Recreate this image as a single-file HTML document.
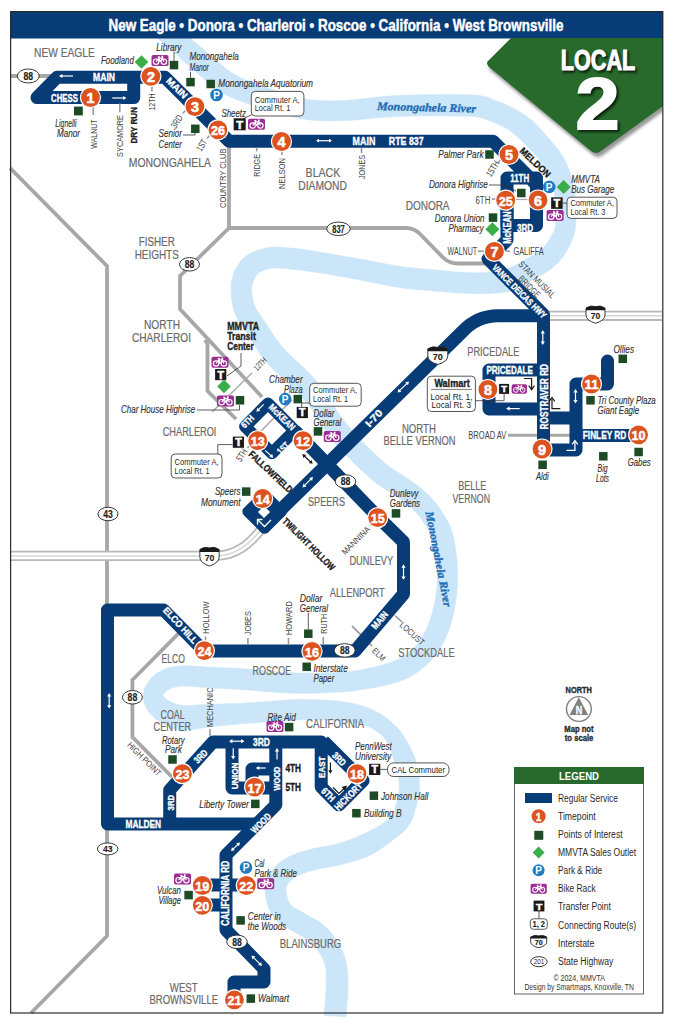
<!DOCTYPE html><html><head><meta charset="utf-8"><style>html,body{margin:0;padding:0;background:#fff;}svg{display:block;}</style></head><body><svg width="673" height="1024" viewBox="0 0 673 1024" font-family='"Liberation Sans", sans-serif'>
<defs><filter id="sh" x="-10%" y="-10%" width="130%" height="130%"><feGaussianBlur stdDeviation="1.6"/></filter><clipPath id="fr"><rect x="10" y="11" width="652.6" height="1002"/></clipPath><filter id="tsh" x="-20%" y="-20%" width="140%" height="140%"><feGaussianBlur stdDeviation="1"/></filter></defs>
<rect width="673" height="1024" fill="#fff"/>
<path d="M153.1,33.9 L153.8,34.5 L154.7,35.3 L155.7,36.2 L156.9,37.2 L158.2,38.3 L159.5,39.5 L161.0,40.8 L162.5,42.1 L164.1,43.5 L165.7,45.0 L167.4,46.4 L169.1,47.9 L170.8,49.5 L172.6,51.1 L174.5,52.8 L176.5,54.6 L178.6,56.5 L180.7,58.4 L182.8,60.4 L185.0,62.3 L187.2,64.3 L189.5,66.3 L191.7,68.2 L193.9,70.1 L196.0,71.9 L198.1,73.7 L200.3,75.7 L202.5,77.6 L204.8,79.6 L207.2,81.7 L209.6,83.8 L212.2,85.8 L214.8,87.8 L217.6,89.8 L220.5,91.7 L223.6,93.6 L226.6,95.2 L229.8,96.7 L232.9,98.1 L236.0,99.4 L239.2,100.6 L242.4,101.8 L245.6,102.9 L248.8,103.9 L252.1,105.0 L255.3,106.0 L258.5,107.0 L261.8,108.0 L265.1,109.0 L268.5,110.1 L272.1,111.2 L275.7,112.3 L279.3,113.3 L283.1,114.4 L286.8,115.4 L290.6,116.3 L294.3,117.2 L298.1,118.0 L301.8,118.7 L305.4,119.3 L309.0,119.8 L312.3,120.2 L315.6,120.5 L318.8,120.7 L321.9,120.8 L325.1,120.9 L328.2,120.9 L331.4,120.9 L334.7,120.8 L338.1,120.7 L341.6,120.5 L345.4,120.4 L349.5,120.2 L353.8,120.0 L358.1,119.6 L362.5,119.3 L367.0,118.9 L371.5,118.4 L376.2,118.0 L380.9,117.6 L385.7,117.2 L390.5,116.9 L395.4,116.6 L400.4,116.4 L405.8,116.2 L411.6,116.1 L417.8,116.0 L424.2,115.9 L430.7,115.9 L437.2,115.8 L443.6,115.8 L449.8,115.9 L455.5,116.0 L460.9,116.1 L465.6,116.2 L469.6,116.3 L472.8,116.5 L475.3,116.6 L477.2,116.8 L478.6,117.0 L479.6,117.2 L480.1,117.3 L480.6,117.4 L481.2,117.6 L482.1,118.0 L483.3,118.5 L484.9,119.1 L486.6,119.7 L488.3,120.2 L489.8,120.7 L491.4,121.3 L492.9,121.9 L494.5,122.6 L496.1,123.3 L497.7,124.0 L499.2,124.7 L500.7,125.4 L502.2,126.1 L503.6,126.9 L504.9,127.6 L506.2,128.3 L507.4,129.1 L508.5,129.8 L509.5,130.5 L510.6,131.3 L511.6,132.0 L512.5,132.8 L513.5,133.6 L514.5,134.4 L515.6,135.3 L516.6,136.3 L517.7,137.3 L518.9,138.2 L520.1,139.3 L521.3,140.4 L522.6,141.6 L523.9,142.9 L525.2,144.1 L526.4,145.4 L527.7,146.8 L529.0,148.1 L530.3,149.4 L531.5,150.7 L532.6,152.0 L533.7,153.2 L534.8,154.5 L535.9,155.7 L536.9,156.9 L537.9,158.1 L538.9,159.3 L539.8,160.5 L540.7,161.6 L541.6,162.7 L542.3,163.8 L543.1,164.8 L543.7,165.8 L544.4,166.8 L544.9,167.7 L545.5,168.5 L545.9,169.4 L546.4,170.2 L546.8,171.0 L547.2,171.8 L547.5,172.7 L547.9,173.6 L548.3,174.6 L548.8,175.6 L549.2,176.7 L549.7,177.9 L550.1,179.1 L550.6,180.3 L551.1,181.6 L551.5,182.8 L552.0,184.2 L552.4,185.5 L552.8,186.8 L553.2,188.2 L553.6,189.5 L553.9,190.8 L554.2,192.0 L554.4,193.2 L554.7,194.5 L554.9,195.8 L555.0,197.1 L555.2,198.5 L555.4,199.8 L555.5,201.2 L555.6,202.5 L555.7,203.8 L555.8,205.1 L555.9,206.4 L556.0,207.7 L556.1,208.8 L556.2,209.9 L556.2,210.9 L556.2,211.9 L556.2,212.8 L556.2,213.8 L556.2,214.7 L556.2,215.5 L556.2,216.4 L556.2,217.3 L556.1,218.3 L556.0,219.3 L555.9,220.4 L555.9,221.5 L555.8,222.6 L555.8,223.5 L555.7,224.4 L555.6,225.1 L555.5,225.9 L555.4,226.6 L555.3,227.3 L555.1,228.0 L554.9,228.7 L554.6,229.6 L554.2,230.6 L553.7,231.7 L553.1,232.9 L552.4,234.2 L551.7,235.5 L551.0,236.8 L550.2,238.2 L549.5,239.5 L548.7,240.7 L547.9,241.9 L547.2,243.0 L546.5,243.9 L545.8,244.8 L545.2,245.6 L544.5,246.4 L543.8,247.1 L543.2,247.9 L542.5,248.6 L541.8,249.2 L541.0,249.9 L540.2,250.6 L539.4,251.3 L538.6,251.9 L537.7,252.6 L536.9,253.2 L536.1,253.7 L535.2,254.2 L534.3,254.8 L533.2,255.4 L532.1,256.0 L531.0,256.6 L529.8,257.2 L528.6,257.8 L527.3,258.5 L526.0,259.2 L524.8,259.9 L523.6,260.6 L522.4,261.2 L521.3,261.8 L520.3,262.4 L519.3,263.0 L518.3,263.5 L517.4,264.0 L516.5,264.5 L515.7,264.9 L514.9,265.4 L514.0,265.7 L513.2,266.1 L512.2,266.6 L511.2,267.1 L510.2,267.5 L509.4,267.9 L508.6,268.3 L507.8,268.7 L507.0,269.0 L506.2,269.3 L505.4,269.5 L504.6,269.8 L503.7,270.0 L502.7,270.2 L501.6,270.5 L500.4,270.7 L499.0,271.0 L497.6,271.2 L496.1,271.4 L494.5,271.6 L492.8,271.8 L491.2,272.0 L489.5,272.1 L487.8,272.3 L486.1,272.4 L484.5,272.5 L482.9,272.6 L481.4,272.7 L480.0,272.7 L478.5,272.8 L477.1,272.8 L475.7,272.8 L474.2,272.8 L472.6,272.8 L471.0,272.8 L469.3,272.7 L467.5,272.6 L465.5,272.6 L463.5,272.4 L461.3,272.3 L459.1,272.1 L456.7,271.9 L454.3,271.7 L451.8,271.5 L449.3,271.3 L446.7,271.1 L444.0,270.8 L441.3,270.6 L438.7,270.3 L435.9,270.0 L433.2,269.8 L430.4,269.6 L427.6,269.3 L424.8,269.1 L421.9,268.9 L419.1,268.6 L416.2,268.3 L413.3,268.1 L410.4,267.7 L407.5,267.4 L404.5,267.0 L401.5,266.6 L398.5,266.2 L395.4,265.7 L392.2,265.1 L389.0,264.5 L385.7,263.9 L382.3,263.3 L378.9,262.6 L375.5,262.0 L372.1,261.3 L368.7,260.7 L365.3,260.0 L361.8,259.4 L358.5,258.8 L355.0,258.2 L351.6,257.6 L348.1,256.9 L344.6,256.3 L341.2,255.7 L337.7,255.1 L334.3,254.5 L331.0,253.9 L327.8,253.4 L324.6,252.9 L321.6,252.4 L318.7,251.9 L315.9,251.4 L313.1,251.0 L310.4,250.6 L307.7,250.2 L305.1,249.8 L302.6,249.5 L300.2,249.1 L297.8,248.8 L295.4,248.5 L293.2,248.3 L291.0,248.0 L288.9,247.9 L287.0,247.7 L285.1,247.5 L283.3,247.4 L281.5,247.2 L279.7,247.1 L277.8,247.1 L276.0,247.1 L274.2,247.1 L272.3,247.2 L270.4,247.4 L268.5,247.6 L266.6,247.9 L264.7,248.3 L262.9,248.7 L261.1,249.2 L259.2,249.7 L257.4,250.3 L255.6,250.9 L253.8,251.7 L252.1,252.5 L250.4,253.3 L248.7,254.3 L247.0,255.4 L245.4,256.6 L243.9,257.9 L242.5,259.2 L241.2,260.6 L240.1,262.0 L239.0,263.4 L238.1,264.9 L237.2,266.3 L236.4,267.7 L235.7,269.1 L235.0,270.4 L234.4,271.7 L233.8,273.1 L233.3,274.5 L232.8,276.0 L232.4,277.5 L232.0,279.0 L231.7,280.6 L231.5,282.1 L231.3,283.7 L231.2,285.3 L231.1,287.0 L231.1,288.6 L231.2,290.3 L231.2,291.9 L231.3,293.6 L231.4,295.4 L231.5,297.3 L231.7,299.2 L232.0,301.2 L232.3,303.3 L232.7,305.4 L233.2,307.5 L233.8,309.6 L234.5,311.8 L235.3,314.0 L236.2,316.1 L237.3,318.2 L238.4,320.2 L239.5,322.0 L240.7,323.9 L241.8,325.6 L243.0,327.3 L244.2,329.0 L245.4,330.7 L246.6,332.4 L247.8,334.1 L248.9,335.8 L250.1,337.6 L251.2,339.5 L252.4,341.5 L253.7,343.6 L255.0,345.8 L256.3,348.0 L257.8,350.3 L259.3,352.6 L260.9,355.0 L262.6,357.4 L264.4,359.8 L266.4,362.2 L268.5,364.5 L270.7,366.9 L273.0,369.2 L275.4,371.5 L277.8,373.7 L280.1,375.9 L282.5,378.1 L284.7,380.1 L286.9,382.2 L289.0,384.1 L290.9,385.9 L292.6,387.7 L294.3,389.4 L296.0,391.1 L297.6,392.8 L299.1,394.4 L300.6,395.9 L302.0,397.4 L303.4,398.9 L304.7,400.4 L305.9,401.8 L307.2,403.3 L308.4,404.8 L309.6,406.3 L310.6,407.7 L311.5,409.0 L312.4,410.4 L313.2,411.8 L314.1,413.3 L315.0,414.9 L315.9,416.6 L316.9,418.3 L318.0,420.2 L319.2,422.1 L320.6,424.1 L322.0,426.1 L323.4,428.1 L324.8,430.0 L326.2,431.9 L327.8,433.9 L329.3,435.9 L330.9,438.0 L332.6,440.1 L334.4,442.2 L336.3,444.4 L338.2,446.6 L340.2,448.9 L342.3,451.2 L344.6,453.6 L347.0,456.0 L349.6,458.6 L352.2,461.3 L354.9,463.9 L357.7,466.6 L360.5,469.2 L363.2,471.8 L365.9,474.3 L368.5,476.6 L370.9,478.8 L373.3,480.8 L375.5,482.6 L377.7,484.2 L379.7,485.7 L381.7,487.0 L383.5,488.2 L385.3,489.2 L386.9,490.2 L388.4,491.0 L389.8,491.9 L391.2,492.7 L392.5,493.6 L394.0,494.6 L395.6,495.8 L397.3,497.0 L399.1,498.2 L400.8,499.4 L402.5,500.6 L404.1,501.9 L405.7,503.1 L407.3,504.3 L408.8,505.5 L410.2,506.6 L411.5,507.8 L412.7,509.0 L413.9,510.2 L415.1,511.4 L416.2,512.6 L417.3,513.8 L418.4,515.1 L419.4,516.4 L420.4,517.6 L421.4,519.0 L422.3,520.3 L423.2,521.7 L424.1,523.0 L425.1,524.5 L426.1,526.1 L427.1,527.6 L427.9,529.0 L428.8,530.3 L429.5,531.6 L430.2,532.8 L430.8,534.1 L431.4,535.4 L432.0,536.8 L432.5,538.4 L433.1,540.2 L433.6,542.2 L434.1,544.7 L434.6,547.3 L435.2,550.3 L435.6,553.3 L436.1,556.6 L436.5,559.9 L436.8,563.3 L437.1,566.6 L437.3,570.0 L437.5,573.4 L437.5,576.6 L437.5,579.7 L437.3,582.8 L437.1,586.0 L436.7,589.2 L436.3,592.5 L435.9,595.7 L435.3,599.0 L434.7,602.2 L434.1,605.3 L433.4,608.4 L432.6,611.4 L431.8,614.2 L431.0,616.9 L430.1,619.6 L429.2,622.2 L428.3,624.7 L427.3,627.1 L426.3,629.4 L425.3,631.6 L424.2,633.8 L423.0,635.9 L421.8,637.8 L420.6,639.7 L419.3,641.6 L417.9,643.4 L416.4,645.1 L414.8,646.8 L413.2,648.4 L411.6,650.0 L409.9,651.5 L408.1,652.9 L406.3,654.3 L404.4,655.6 L402.3,656.8 L400.2,658.1 L398.0,659.2 L395.7,660.3 L393.3,661.4 L390.7,662.4 L387.7,663.4 L384.6,664.4 L381.4,665.3 L378.0,666.2 L374.6,667.0 L371.1,667.8 L367.8,668.5 L364.5,669.2 L361.3,669.8 L358.3,670.4 L355.6,670.8 L353.1,671.2 L350.7,671.5 L348.3,671.7 L346.0,671.8 L343.8,672.0 L341.5,672.1 L339.2,672.2 L336.9,672.3 L334.5,672.3 L332.0,672.4 L329.5,672.5 L327.0,672.6 L324.5,672.7 L322.1,672.8 L319.6,672.9 L317.2,673.0 L314.7,673.0 L312.3,673.1 L309.9,673.1 L307.4,673.1 L305.0,673.1 L302.6,673.1 L300.2,673.1 L297.8,673.0 L295.4,672.9 L293.0,672.8 L290.5,672.7 L288.1,672.5 L285.6,672.4 L283.2,672.2 L280.7,672.0 L278.2,671.8 L275.7,671.7 L273.2,671.5 L270.7,671.3 L268.3,671.1 L265.8,670.9 L263.4,670.7 L260.9,670.4 L258.4,670.2 L255.9,670.0 L253.4,669.7 L250.9,669.5 L248.4,669.3 L245.8,669.1 L243.3,668.9 L240.7,668.7 L238.1,668.5 L235.6,668.4 L233.1,668.2 L230.5,668.1 L228.0,668.0 L225.5,667.9 L223.0,667.8 L220.5,667.7 L218.0,667.6 L215.5,667.5 L213.0,667.4 L210.5,667.3 L208.1,667.1 L205.6,667.0 L203.0,666.8 L200.4,666.6 L197.7,666.4 L195.0,666.2 L192.3,666.0 L189.6,665.8 L186.9,665.8 L184.2,665.7 L181.6,665.8 L179.1,666.0 L176.8,666.3 L174.6,666.6 L172.5,667.0 L170.4,667.4 L168.4,668.0 L166.5,668.6 L164.6,669.3 L162.8,670.1 L161.1,670.9 L159.4,671.8 L157.8,672.8 L156.2,673.8 L154.7,675.0 L153.2,676.4 L151.8,677.8 L150.4,679.2 L149.2,680.8 L148.0,682.4 L146.9,684.1 L145.9,685.9 L145.1,687.8 L144.4,689.8 L143.8,691.9 L143.5,694.2 L143.4,696.5 L143.4,698.7 L143.8,700.8 L144.2,702.8 L144.9,704.8 L145.7,706.6 L146.6,708.5 L147.7,710.2 L148.8,711.9 L150.1,713.5 L151.5,715.0 L152.9,716.4 L154.3,717.7 L155.9,719.0 L157.5,720.3 L159.3,721.6 L161.2,722.9 L163.2,724.1 L165.3,725.3 L167.6,726.5 L170.1,727.5 L172.6,728.4 L175.3,729.2 L178.2,729.9 L181.2,730.1 L184.2,730.1 L187.2,730.0 L190.1,729.7 L192.9,729.4 L195.7,729.0 L198.4,728.6 L201.0,728.2 L203.6,727.7 L206.1,727.4 L208.5,727.0 L210.8,726.7 L213.2,726.5 L215.7,726.2 L218.2,726.0 L220.7,725.7 L223.2,725.5 L225.7,725.3 L228.2,725.0 L230.7,724.8 L233.2,724.5 L235.7,724.3 L238.2,724.0 L240.7,723.8 L243.2,723.6 L245.7,723.4 L248.2,723.2 L250.7,723.1 L253.2,722.9 L255.7,722.7 L258.2,722.5 L260.7,722.3 L263.2,722.1 L265.7,722.0 L268.2,721.8 L270.7,721.6 L273.2,721.5 L275.7,721.3 L278.3,721.1 L280.8,720.9 L283.2,720.7 L285.7,720.5 L288.2,720.4 L290.6,720.2 L293.0,720.1 L295.4,720.0 L297.8,719.9 L300.2,719.8 L302.6,719.8 L305.1,719.8 L307.6,719.8 L310.1,719.8 L312.7,719.8 L315.2,719.9 L317.7,720.0 L320.2,720.1 L322.6,720.1 L324.9,720.2 L327.2,720.4 L329.4,720.5 L331.5,720.6 L333.4,720.7 L335.3,720.8 L337.2,720.9 L338.9,721.0 L340.6,721.1 L342.2,721.3 L343.8,721.4 L345.4,721.6 L347.0,721.8 L348.5,722.0 L350.1,722.3 L351.8,722.6 L353.5,722.9 L355.1,723.1 L356.7,723.4 L358.3,723.8 L359.9,724.1 L361.4,724.5 L362.9,724.9 L364.3,725.3 L365.7,725.7 L367.1,726.2 L368.4,726.7 L369.7,727.3 L370.9,727.9 L372.2,728.6 L373.5,729.3 L374.7,730.0 L375.9,730.8 L377.1,731.6 L378.3,732.4 L379.4,733.2 L380.5,734.1 L381.5,734.9 L382.4,735.8 L383.2,736.7 L384.0,737.6 L384.7,738.5 L385.3,739.5 L386.0,740.5 L386.6,741.5 L387.2,742.6 L387.8,743.6 L388.4,744.8 L389.0,745.9 L389.5,747.1 L390.1,748.3 L390.6,749.4 L391.0,750.6 L391.4,751.7 L391.8,753.0 L392.2,754.2 L392.5,755.5 L392.9,756.8 L393.2,758.1 L393.6,759.4 L393.9,760.7 L394.2,762.0 L394.6,763.4 L395.0,764.6 L395.4,765.8 L395.8,766.9 L396.2,768.1 L396.5,769.2 L396.9,770.3 L397.2,771.4 L397.5,772.5 L397.7,773.5 L398.0,774.6 L398.2,775.6 L398.4,776.6 L398.6,777.7 L398.7,778.8 L398.9,779.9 L399.0,781.0 L399.2,782.0 L399.3,783.1 L399.3,784.1 L399.4,785.1 L399.4,786.1 L399.4,787.1 L399.4,788.2 L399.3,789.2 L399.3,790.2 L399.1,791.3 L399.0,792.4 L398.8,793.6 L398.6,794.7 L398.4,796.0 L398.1,797.2 L397.8,798.4 L397.6,799.7 L397.2,800.9 L396.9,802.1 L396.6,803.4 L396.3,804.7 L395.9,806.0 L395.6,807.2 L395.4,808.3 L395.1,809.3 L394.8,810.3 L394.5,811.2 L394.2,812.0 L393.9,812.8 L393.6,813.5 L393.3,814.1 L392.9,814.7 L392.4,815.4 L391.9,816.0 L391.4,816.6 L390.9,817.3 L390.3,817.9 L389.6,818.5 L388.9,819.1 L388.0,819.9 L387.1,820.6 L386.0,821.4 L384.8,822.3 L383.5,823.3 L381.9,824.2 L380.3,825.2 L378.6,826.2 L376.8,827.3 L374.9,828.4 L373.0,829.4 L371.0,830.5 L369.0,831.5 L367.0,832.5 L365.1,833.4 L363.2,834.3 L361.3,835.0 L359.5,835.9 L357.7,836.7 L355.8,837.6 L353.8,838.3 L351.8,839.1 L349.8,839.8 L347.8,840.6 L345.7,841.3 L343.6,841.9 L341.5,842.6 L339.4,843.2 L337.3,843.9 L335.3,844.4 L333.3,844.8 L331.2,845.3 L329.0,845.7 L326.8,846.1 L324.5,846.5 L322.1,846.9 L319.8,847.3 L317.4,847.7 L315.0,848.2 L312.6,848.8 L310.3,849.4 L308.1,850.0 L306.0,850.5 L304.0,851.2 L301.9,851.8 L299.8,852.4 L297.7,853.1 L295.6,853.9 L293.6,854.7 L291.6,855.5 L289.6,856.4 L287.6,857.4 L285.7,858.4 L283.9,859.5 L282.2,860.7 L280.6,861.9 L279.0,863.1 L277.4,864.4 L276.0,865.7 L274.6,867.1 L273.3,868.6 L272.0,870.1 L270.8,871.7 L269.8,873.3 L268.8,875.0 L267.9,876.8 L267.1,878.6 L266.5,880.4 L266.0,882.3 L265.6,884.2 L265.3,886.0 L265.2,887.8 L265.1,889.6 L265.1,891.4 L265.2,893.2 L265.4,894.9 L265.6,896.6 L265.9,898.3 L266.3,900.1 L266.7,901.9 L267.2,903.7 L267.8,905.6 L268.5,907.5 L269.3,909.4 L270.2,911.3 L271.2,913.2 L272.3,915.1 L273.6,917.0 L275.1,918.9 L276.7,920.7 L278.5,922.3 L280.3,923.7 L282.1,924.9 L283.9,926.0 L285.6,927.0 L287.3,927.9 L288.9,928.8 L290.4,929.6 L291.9,930.4 L293.2,931.2 L294.6,932.0 L296.2,932.9 L297.9,933.9 L299.6,934.9 L301.2,935.7 L302.8,936.6 L304.2,937.4 L305.6,938.2 L307.0,938.9 L308.2,939.7 L309.2,940.4 L310.2,941.1 L311.0,941.8 L311.9,942.6 L312.8,943.6 L313.6,944.5 L314.5,945.6 L315.4,946.7 L316.2,947.8 L317.1,949.0 L317.9,950.2 L318.7,951.5 L319.4,952.7 L320.2,953.9 L320.8,955.1 L321.5,956.3 L322.1,957.4 L322.6,958.5 L323.1,959.5 L323.5,960.4 L323.9,961.4 L324.2,962.4 L324.6,963.4 L324.9,964.4 L325.2,965.5 L325.4,966.6 L325.7,967.9 L325.8,969.2 L326.0,970.5 L326.1,971.9 L326.2,973.4 L326.2,975.0 L326.3,976.6 L326.3,978.3 L326.2,980.1 L326.2,981.9 L326.1,983.8 L326.1,985.8 L326.0,987.7 L325.9,989.8 L325.8,992.1 L325.7,994.5 L325.5,997.1 L325.3,999.8 L325.1,1002.5 L324.9,1005.1 L324.7,1007.6 L324.5,1009.9 L324.3,1012.0 L324.1,1013.7 L324.0,1015.2 L346.0,1016.8 L346.1,1015.5 L346.2,1013.8 L346.4,1011.8 L346.6,1009.5 L346.8,1006.9 L347.0,1004.3 L347.2,1001.5 L347.5,998.7 L347.6,995.9 L347.8,993.2 L347.9,990.6 L348.0,988.3 L348.0,986.1 L348.0,984.0 L348.0,982.0 L347.9,979.9 L347.8,977.9 L347.7,975.9 L347.6,973.9 L347.5,971.9 L347.2,969.9 L347.0,968.0 L346.7,966.0 L346.3,964.1 L346.0,962.3 L345.6,960.5 L345.1,958.8 L344.6,957.1 L344.1,955.5 L343.5,953.9 L342.9,952.3 L342.2,950.8 L341.5,949.3 L340.7,947.8 L340.0,946.3 L339.2,944.9 L338.3,943.4 L337.4,941.9 L336.5,940.3 L335.5,938.7 L334.4,937.1 L333.3,935.5 L332.1,933.9 L330.8,932.3 L329.5,930.8 L328.1,929.2 L326.6,927.7 L325.0,926.2 L323.2,924.7 L321.4,923.3 L319.6,922.1 L317.9,921.0 L316.1,920.0 L314.4,919.0 L312.7,918.1 L311.1,917.2 L309.6,916.4 L308.2,915.6 L306.8,914.9 L305.4,914.0 L303.8,913.0 L302.1,912.1 L300.4,911.2 L298.9,910.3 L297.4,909.5 L296.0,908.7 L294.7,908.0 L293.6,907.3 L292.7,906.7 L292.0,906.1 L291.4,905.6 L290.9,905.1 L290.5,904.6 L290.0,903.8 L289.5,903.0 L289.0,902.1 L288.6,901.1 L288.1,900.0 L287.7,898.9 L287.4,897.8 L287.0,896.6 L286.8,895.5 L286.6,894.4 L286.4,893.4 L286.2,892.4 L286.2,891.5 L286.1,890.7 L286.1,889.9 L286.1,889.1 L286.2,888.4 L286.3,887.8 L286.4,887.2 L286.6,886.6 L286.7,886.1 L287.0,885.5 L287.2,885.0 L287.6,884.4 L288.0,883.8 L288.5,883.1 L289.1,882.4 L289.8,881.6 L290.5,880.9 L291.3,880.1 L292.2,879.4 L293.2,878.6 L294.2,877.9 L295.2,877.2 L296.3,876.6 L297.4,876.0 L298.6,875.4 L299.9,874.8 L301.4,874.2 L302.9,873.6 L304.5,873.0 L306.3,872.4 L308.1,871.8 L309.9,871.3 L311.8,870.7 L313.8,870.2 L315.7,869.6 L317.5,869.2 L319.4,868.7 L321.4,868.3 L323.5,867.9 L325.7,867.6 L328.0,867.2 L330.4,866.8 L332.8,866.3 L335.2,865.9 L337.7,865.4 L340.2,864.8 L342.7,864.1 L345.1,863.5 L347.4,862.9 L349.7,862.3 L352.0,861.6 L354.3,860.9 L356.7,860.2 L359.0,859.5 L361.4,858.7 L363.7,857.8 L366.0,856.9 L368.4,856.0 L370.7,855.0 L372.9,853.7 L375.2,852.4 L377.4,851.1 L379.6,849.7 L381.7,848.2 L383.8,846.8 L385.8,845.4 L387.8,844.0 L389.6,842.6 L391.4,841.2 L393.0,839.9 L394.5,838.7 L396.0,837.7 L397.4,836.6 L398.7,835.6 L400.0,834.6 L401.2,833.6 L402.4,832.5 L403.6,831.4 L404.7,830.3 L405.7,829.1 L406.8,827.9 L407.7,826.7 L408.7,825.3 L409.7,823.8 L410.5,822.3 L411.3,820.7 L412.0,819.2 L412.6,817.7 L413.1,816.3 L413.5,814.9 L414.0,813.6 L414.3,812.3 L414.7,811.0 L415.0,809.8 L415.4,808.6 L415.8,807.3 L416.2,806.0 L416.6,804.6 L416.9,803.1 L417.3,801.7 L417.7,800.2 L418.0,798.6 L418.3,797.1 L418.6,795.6 L418.9,794.0 L419.1,792.4 L419.3,790.8 L419.4,789.3 L419.5,787.7 L419.5,786.2 L419.5,784.7 L419.5,783.3 L419.5,781.8 L419.4,780.4 L419.3,779.0 L419.1,777.5 L419.0,776.1 L418.8,774.8 L418.6,773.4 L418.4,771.9 L418.1,770.5 L417.8,769.0 L417.5,767.6 L417.2,766.2 L416.9,764.8 L416.5,763.4 L416.1,762.1 L415.7,760.7 L415.3,759.3 L414.9,758.0 L414.4,756.6 L413.9,755.3 L413.3,754.0 L412.7,752.7 L412.0,751.3 L411.4,749.8 L410.7,748.4 L410.0,746.9 L409.3,745.5 L408.5,744.0 L407.7,742.6 L406.8,741.1 L405.9,739.7 L405.1,738.4 L404.3,737.1 L403.4,735.8 L402.5,734.5 L401.6,733.2 L400.6,731.9 L399.6,730.6 L398.5,729.3 L397.4,728.0 L396.2,726.7 L394.9,725.5 L393.6,724.2 L392.3,723.0 L391.0,721.8 L389.6,720.6 L388.2,719.5 L386.8,718.3 L385.3,717.2 L383.8,716.1 L382.2,715.1 L380.6,714.1 L379.0,713.1 L377.3,712.2 L375.6,711.3 L373.9,710.4 L372.1,709.6 L370.3,708.8 L368.5,708.1 L366.7,707.5 L364.9,706.8 L363.0,706.2 L361.2,705.7 L359.4,705.1 L357.5,704.6 L355.7,704.1 L353.9,703.7 L352.0,703.3 L350.1,702.9 L348.3,702.6 L346.4,702.3 L344.5,702.0 L342.7,701.7 L340.8,701.5 L338.8,701.3 L336.9,701.1 L334.9,700.9 L332.8,700.7 L330.6,700.5 L328.4,700.4 L326.0,700.2 L323.5,700.1 L321.0,700.0 L318.4,699.9 L315.8,699.8 L313.1,699.7 L310.5,699.6 L307.8,699.6 L305.1,699.5 L302.5,699.5 L299.8,699.6 L297.2,699.6 L294.6,699.7 L292.0,699.8 L289.4,700.0 L286.8,700.1 L284.3,700.3 L281.8,700.5 L279.2,700.7 L276.7,700.8 L274.3,701.0 L271.8,701.2 L269.3,701.4 L266.8,701.5 L264.3,701.7 L261.8,701.9 L259.3,702.0 L256.8,702.2 L254.3,702.4 L251.8,702.6 L249.3,702.7 L246.8,702.9 L244.3,703.1 L241.8,703.3 L239.3,703.4 L236.8,703.5 L234.3,703.6 L231.8,703.6 L229.3,703.7 L226.8,703.8 L224.3,703.9 L221.8,703.9 L219.3,704.0 L216.8,704.1 L214.3,704.1 L211.8,704.2 L209.2,704.3 L206.4,704.4 L203.7,704.6 L200.9,704.8 L198.2,705.0 L195.6,705.2 L193.1,705.4 L190.7,705.5 L188.5,705.6 L186.4,705.6 L184.6,705.5 L183.1,705.4 L181.8,705.1 L180.6,705.0 L179.2,704.8 L177.9,704.5 L176.6,704.2 L175.2,703.7 L173.9,703.2 L172.7,702.7 L171.4,702.1 L170.2,701.5 L169.1,700.8 L168.0,700.2 L167.1,699.6 L166.3,699.1 L165.7,698.6 L165.1,698.1 L164.5,697.7 L164.1,697.2 L163.7,696.8 L163.3,696.4 L163.1,696.1 L162.9,695.9 L162.7,695.7 L162.6,695.7 L162.5,695.8 L162.5,695.8 L162.6,695.7 L162.8,695.4 L163.0,694.9 L163.4,694.3 L163.9,693.7 L164.4,693.0 L165.1,692.4 L165.7,691.7 L166.4,691.1 L167.1,690.6 L167.8,690.2 L168.5,689.7 L169.3,689.2 L170.1,688.8 L171.0,688.4 L171.9,688.0 L172.9,687.7 L174.0,687.4 L175.2,687.1 L176.4,686.8 L177.8,686.6 L179.3,686.4 L180.9,686.2 L182.5,686.1 L184.4,686.1 L186.4,686.1 L188.6,686.2 L191.0,686.3 L193.5,686.5 L196.1,686.7 L198.7,686.9 L201.4,687.2 L204.1,687.4 L206.8,687.6 L209.5,687.7 L212.0,687.9 L214.5,688.0 L217.0,688.1 L219.5,688.2 L222.0,688.3 L224.5,688.5 L227.0,688.6 L229.5,688.7 L231.9,688.9 L234.4,689.0 L236.9,689.2 L239.3,689.3 L241.7,689.5 L244.2,689.7 L246.6,689.9 L249.1,690.1 L251.6,690.3 L254.1,690.5 L256.6,690.7 L259.1,690.9 L261.6,691.1 L264.2,691.4 L266.7,691.5 L269.3,691.7 L271.8,691.9 L274.3,692.1 L276.8,692.2 L279.3,692.4 L281.8,692.6 L284.4,692.7 L286.9,692.9 L289.5,693.0 L292.0,693.1 L294.6,693.2 L297.2,693.3 L299.8,693.3 L302.4,693.4 L305.0,693.4 L307.6,693.3 L310.1,693.3 L312.7,693.3 L315.3,693.2 L317.8,693.1 L320.4,693.0 L322.9,692.9 L325.5,692.8 L328.0,692.6 L330.5,692.5 L332.9,692.3 L335.3,692.2 L337.7,692.1 L340.1,692.0 L342.5,691.9 L345.0,691.7 L347.5,691.5 L350.2,691.3 L352.9,691.0 L355.7,690.6 L358.7,690.1 L361.7,689.6 L364.8,689.1 L368.0,688.6 L371.5,688.0 L375.1,687.4 L378.8,686.7 L382.5,685.9 L386.3,685.1 L390.0,684.2 L393.8,683.2 L397.4,682.1 L400.9,680.8 L404.3,679.5 L407.4,678.0 L410.3,676.5 L413.1,674.9 L415.9,673.2 L418.5,671.4 L421.0,669.5 L423.4,667.5 L425.7,665.5 L428.0,663.4 L430.1,661.2 L432.1,659.0 L434.1,656.6 L436.1,654.2 L437.9,651.7 L439.6,649.1 L441.2,646.4 L442.7,643.7 L444.1,640.9 L445.5,638.0 L446.7,635.1 L447.9,632.2 L449.0,629.2 L450.1,626.2 L451.0,623.1 L451.9,619.8 L452.8,616.5 L453.6,613.0 L454.3,609.5 L455.0,605.9 L455.5,602.3 L456.1,598.6 L456.5,594.9 L456.9,591.3 L457.2,587.6 L457.4,583.9 L457.5,580.3 L457.6,576.6 L457.6,572.9 L457.4,569.1 L457.2,565.3 L457.0,561.5 L456.6,557.7 L456.2,554.1 L455.8,550.5 L455.3,547.1 L454.8,543.8 L454.2,540.7 L453.6,537.8 L452.9,535.0 L452.2,532.3 L451.4,529.9 L450.5,527.5 L449.6,525.4 L448.7,523.4 L447.7,521.5 L446.7,519.8 L445.7,518.1 L444.8,516.5 L443.9,515.0 L442.9,513.5 L441.9,511.8 L440.7,510.0 L439.6,508.3 L438.4,506.6 L437.2,505.0 L435.9,503.3 L434.6,501.7 L433.2,500.1 L431.8,498.5 L430.4,497.0 L428.9,495.4 L427.3,493.8 L425.6,492.3 L423.9,490.7 L422.1,489.2 L420.3,487.8 L418.5,486.4 L416.6,485.0 L414.8,483.7 L413.0,482.4 L411.2,481.1 L409.5,479.9 L407.8,478.6 L406.0,477.4 L404.2,476.1 L402.4,475.0 L400.7,473.9 L399.0,472.9 L397.5,472.0 L396.0,471.2 L394.6,470.3 L393.1,469.4 L391.7,468.4 L390.1,467.3 L388.5,466.1 L386.7,464.6 L384.7,462.9 L382.4,460.9 L380.0,458.7 L377.5,456.4 L374.9,454.0 L372.2,451.4 L369.6,448.9 L367.0,446.3 L364.4,443.8 L362.0,441.3 L359.7,439.0 L357.7,436.8 L355.7,434.7 L353.9,432.7 L352.2,430.7 L350.5,428.8 L348.9,426.8 L347.4,424.9 L345.9,423.0 L344.4,421.1 L343.0,419.3 L341.7,417.5 L340.3,415.6 L339.0,413.9 L337.9,412.3 L336.9,410.8 L336.0,409.3 L335.1,407.7 L334.2,406.2 L333.3,404.6 L332.3,402.9 L331.3,401.2 L330.3,399.4 L329.1,397.6 L327.8,395.6 L326.4,393.7 L325.1,391.9 L323.7,390.1 L322.4,388.4 L321.0,386.7 L319.6,384.9 L318.1,383.2 L316.7,381.5 L315.1,379.7 L313.5,377.9 L311.9,376.1 L310.2,374.3 L308.4,372.3 L306.3,370.3 L304.2,368.2 L301.9,366.0 L299.6,363.9 L297.3,361.8 L295.0,359.7 L292.7,357.6 L290.5,355.6 L288.4,353.5 L286.5,351.5 L284.7,349.7 L283.0,347.8 L281.5,346.0 L280.0,344.2 L278.6,342.3 L277.2,340.3 L275.8,338.4 L274.4,336.4 L273.1,334.4 L271.8,332.3 L270.5,330.3 L269.1,328.3 L267.8,326.2 L266.5,324.2 L265.1,322.2 L263.8,320.4 L262.6,318.6 L261.4,316.9 L260.2,315.3 L259.2,313.8 L258.2,312.3 L257.3,310.9 L256.5,309.6 L255.8,308.4 L255.2,307.2 L254.7,306.0 L254.2,304.8 L253.8,303.6 L253.4,302.2 L253.1,300.9 L252.8,299.5 L252.5,298.0 L252.3,296.6 L252.1,295.1 L251.9,293.7 L251.8,292.3 L251.7,291.0 L251.6,289.7 L251.7,288.6 L251.7,287.6 L251.8,286.7 L251.8,285.9 L252.0,285.2 L252.1,284.4 L252.3,283.8 L252.5,283.1 L252.7,282.4 L252.9,281.7 L253.2,281.0 L253.6,280.3 L254.0,279.4 L254.4,278.6 L254.8,277.7 L255.3,277.0 L255.7,276.2 L256.2,275.6 L256.6,274.9 L257.1,274.3 L257.6,273.8 L258.0,273.4 L258.5,273.0 L259.0,272.6 L259.6,272.2 L260.3,271.8 L261.2,271.4 L262.1,271.0 L263.1,270.5 L264.2,270.1 L265.4,269.8 L266.6,269.4 L267.8,269.1 L269.1,268.8 L270.3,268.6 L271.5,268.4 L272.7,268.2 L273.8,268.1 L274.9,268.1 L276.1,268.1 L277.4,268.1 L278.7,268.1 L280.1,268.2 L281.7,268.3 L283.3,268.4 L285.1,268.6 L287.0,268.8 L289.0,269.0 L291.1,269.1 L293.2,269.3 L295.4,269.6 L297.6,269.8 L299.9,270.1 L302.4,270.4 L304.8,270.7 L307.4,271.0 L310.0,271.4 L312.8,271.8 L315.5,272.2 L318.4,272.6 L321.3,273.1 L324.4,273.6 L327.6,274.1 L330.8,274.7 L334.2,275.3 L337.6,275.9 L341.0,276.5 L344.5,277.1 L347.9,277.7 L351.4,278.4 L354.8,279.0 L358.2,279.6 L361.4,280.2 L364.8,280.9 L368.1,281.6 L371.5,282.2 L374.9,282.9 L378.3,283.6 L381.7,284.3 L385.1,285.0 L388.5,285.7 L391.8,286.3 L395.2,286.9 L398.5,287.4 L401.7,287.8 L404.9,288.3 L408.1,288.6 L411.1,288.9 L414.2,289.2 L417.2,289.5 L420.1,289.8 L423.0,290.0 L425.9,290.3 L428.6,290.5 L431.4,290.7 L434.1,291.0 L436.8,291.2 L439.5,291.4 L442.2,291.7 L444.8,291.9 L447.5,292.1 L450.1,292.3 L452.6,292.5 L455.1,292.7 L457.6,292.8 L460.0,293.0 L462.3,293.1 L464.5,293.2 L466.6,293.3 L468.5,293.4 L470.4,293.5 L472.2,293.6 L473.9,293.6 L475.6,293.6 L477.2,293.7 L478.9,293.7 L480.5,293.6 L482.1,293.6 L483.8,293.6 L485.5,293.5 L487.2,293.4 L489.0,293.4 L490.8,293.3 L492.7,293.2 L494.5,293.1 L496.4,293.0 L498.3,292.9 L500.1,292.7 L501.9,292.5 L503.8,292.3 L505.5,292.1 L507.3,291.8 L509.0,291.4 L510.6,290.9 L512.1,290.5 L513.6,290.0 L514.9,289.5 L516.2,289.0 L517.5,288.4 L518.6,287.9 L519.7,287.4 L520.8,286.9 L521.8,286.4 L522.8,285.9 L524.0,285.2 L525.2,284.6 L526.4,283.9 L527.5,283.2 L528.5,282.5 L529.5,281.9 L530.5,281.2 L531.5,280.6 L532.4,279.9 L533.4,279.3 L534.3,278.7 L535.2,278.1 L536.2,277.6 L537.2,277.0 L538.3,276.4 L539.5,275.8 L540.7,275.2 L542.0,274.5 L543.3,273.8 L544.7,273.0 L546.1,272.2 L547.5,271.3 L548.9,270.4 L550.3,269.4 L551.5,268.5 L552.6,267.6 L553.8,266.6 L554.9,265.6 L556.0,264.6 L557.2,263.6 L558.3,262.5 L559.3,261.3 L560.4,260.1 L561.5,258.8 L562.5,257.5 L563.5,256.1 L564.5,254.6 L565.5,253.0 L566.4,251.4 L567.4,249.8 L568.3,248.1 L569.1,246.4 L570.0,244.7 L570.8,243.0 L571.5,241.3 L572.2,239.7 L572.8,238.0 L573.4,236.4 L573.9,234.8 L574.4,233.2 L574.8,231.6 L575.1,230.1 L575.3,228.7 L575.5,227.4 L575.6,226.1 L575.7,224.9 L575.8,223.7 L575.8,222.7 L575.9,221.7 L576.0,220.7 L576.1,219.6 L576.1,218.4 L576.2,217.2 L576.2,216.1 L576.2,214.9 L576.2,213.8 L576.2,212.6 L576.2,211.4 L576.2,210.2 L576.1,208.9 L576.1,207.6 L576.0,206.3 L575.9,205.0 L575.8,203.7 L575.7,202.2 L575.6,200.7 L575.4,199.2 L575.3,197.7 L575.1,196.1 L574.9,194.5 L574.7,192.9 L574.4,191.3 L574.1,189.6 L573.8,188.0 L573.5,186.4 L573.2,184.8 L572.8,183.2 L572.4,181.5 L572.0,179.9 L571.6,178.3 L571.2,176.8 L570.7,175.2 L570.3,173.7 L569.8,172.1 L569.3,170.7 L568.8,169.3 L568.3,167.9 L567.8,166.7 L567.3,165.4 L566.8,164.2 L566.2,163.0 L565.6,161.8 L565.0,160.5 L564.3,159.3 L563.6,158.0 L562.9,156.8 L562.1,155.5 L561.3,154.2 L560.3,152.9 L559.4,151.5 L558.4,150.1 L557.4,148.8 L556.3,147.4 L555.2,146.1 L554.1,144.7 L553.0,143.4 L551.9,142.0 L550.7,140.7 L549.5,139.4 L548.4,138.0 L547.2,136.7 L546.0,135.2 L544.7,133.8 L543.4,132.3 L542.1,130.8 L540.7,129.3 L539.3,127.8 L537.9,126.3 L536.5,124.9 L535.1,123.4 L533.7,122.0 L532.3,120.7 L530.8,119.6 L529.5,118.5 L528.1,117.4 L526.8,116.4 L525.4,115.4 L524.0,114.5 L522.6,113.6 L521.2,112.7 L519.7,111.8 L518.2,110.9 L516.7,110.1 L515.1,109.2 L513.4,108.3 L511.7,107.4 L510.0,106.6 L508.2,105.7 L506.4,104.9 L504.5,104.0 L502.7,103.2 L500.8,102.4 L498.9,101.7 L497.0,101.0 L495.1,100.3 L493.4,99.7 L492.1,99.3 L491.2,98.9 L490.3,98.5 L489.2,98.0 L487.8,97.5 L486.1,96.9 L484.2,96.4 L482.1,95.9 L479.8,95.6 L477.1,95.3 L474.1,95.1 L470.4,94.9 L466.2,94.7 L461.3,94.6 L455.8,94.6 L449.9,94.6 L443.6,94.6 L437.1,94.6 L430.5,94.7 L423.9,94.7 L417.4,94.9 L411.1,95.0 L405.1,95.2 L399.6,95.4 L394.3,95.7 L389.0,96.1 L383.9,96.5 L379.0,97.0 L374.1,97.5 L369.5,98.0 L364.9,98.5 L360.5,99.0 L356.3,99.5 L352.2,99.9 L348.3,100.2 L344.6,100.4 L340.9,100.5 L337.4,100.7 L334.1,100.8 L331.0,100.9 L328.1,100.9 L325.3,100.9 L322.6,100.8 L319.9,100.7 L317.2,100.5 L314.4,100.3 L311.5,99.9 L308.6,99.5 L305.5,98.9 L302.3,98.3 L299.0,97.5 L295.6,96.6 L292.2,95.7 L288.7,94.7 L285.2,93.6 L281.7,92.5 L278.3,91.4 L274.9,90.3 L271.5,89.1 L268.2,88.0 L265.0,86.9 L261.8,85.8 L258.7,84.8 L255.7,83.7 L252.7,82.7 L249.8,81.6 L247.0,80.5 L244.3,79.4 L241.7,78.2 L239.2,77.0 L236.8,75.7 L234.4,74.4 L232.2,73.1 L230.1,71.7 L227.9,70.1 L225.8,68.5 L223.6,66.8 L221.5,65.0 L219.3,63.1 L217.1,61.2 L214.9,59.2 L212.7,57.2 L210.4,55.2 L208.1,53.3 L205.8,51.5 L203.6,49.6 L201.4,47.8 L199.2,46.0 L197.0,44.1 L194.8,42.2 L192.7,40.4 L190.6,38.6 L188.6,36.9 L186.6,35.2 L184.7,33.6 L182.9,32.1 L181.2,30.6 L179.5,29.1 L177.9,27.7 L176.3,26.3 L174.8,25.0 L173.4,23.7 L172.0,22.6 L170.7,21.5 L169.6,20.4 L168.6,19.5 L167.7,18.8 L166.9,18.1 Z" fill="#cbe6f8" stroke="#cbe6f8" stroke-width="0.6" stroke-linejoin="round"/>
<path d="M10,76 L56,76" fill="none" stroke="#a7a7a7" stroke-width="3.8" stroke-linecap="butt" stroke-linejoin="round" />
<path d="M10,168 L107,266 L107,606" fill="none" stroke="#a7a7a7" stroke-width="3.8" stroke-linecap="butt" stroke-linejoin="miter" />
<path d="M107,828 L107,936 L31,1013" fill="none" stroke="#a7a7a7" stroke-width="3.8" stroke-linecap="butt" stroke-linejoin="miter" />
<path d="M229,147 L229,228 L406,228 Q414,228 420,234 L443,257.5 Q449,263.5 458,263.5 L488,263.5" fill="none" stroke="#a7a7a7" stroke-width="3.8" stroke-linecap="butt" stroke-linejoin="miter" />
<path d="M229,228 L180,276 L180,309 L262,397" fill="none" stroke="#a7a7a7" stroke-width="3.8" stroke-linecap="butt" stroke-linejoin="miter" />
<path d="M205,340 L207.5,344 L207.5,391 L236,419" fill="none" stroke="#a7a7a7" stroke-width="3.8" stroke-linecap="butt" stroke-linejoin="miter" />
<path d="M186,626 L132.4,680 L132.4,737 L172,777" fill="none" stroke="#a7a7a7" stroke-width="3.8" stroke-linecap="butt" stroke-linejoin="miter" />
<path d="M508,435.3 L571,435.3" fill="none" stroke="#a7a7a7" stroke-width="3" stroke-linecap="butt" stroke-linejoin="round" />
<path d="M352,626 L372,646" fill="none" stroke="#a0a0a0" stroke-width="1.8" stroke-linecap="butt" stroke-linejoin="round" />
<path d="M292,400 L258,434" fill="none" stroke="#aaa" stroke-width="1.6" stroke-linecap="butt" stroke-linejoin="round" />
<path d="M549,315.8 L662,315.8" fill="none" stroke="#b8b8b8" stroke-width="10.2" stroke-linecap="butt" stroke-linejoin="round" />
<path d="M549,315.8 L662,315.8" fill="none" stroke="#fff" stroke-width="6.6" stroke-linecap="butt" stroke-linejoin="round" />
<path d="M549,315.8 L662,315.8" fill="none" stroke="#d6d6d6" stroke-width="1.5" stroke-linecap="butt" stroke-linejoin="round" />
<path d="M10,555.9 L215,555.9 C236,555.9 250,544 263,527" fill="none" stroke="#b8b8b8" stroke-width="10.2" stroke-linecap="butt" stroke-linejoin="round" />
<path d="M10,555.9 L215,555.9 C236,555.9 250,544 263,527" fill="none" stroke="#fff" stroke-width="6.6" stroke-linecap="butt" stroke-linejoin="round" />
<path d="M10,555.9 L215,555.9 C236,555.9 250,544 263,527" fill="none" stroke="#d6d6d6" stroke-width="1.5" stroke-linecap="butt" stroke-linejoin="round" />
<path d="M150,77.3 L57,77.3 L37,97.6 L133.7,97.6 L133.7,77.3" fill="none" stroke="#083c76" stroke-width="13" stroke-linecap="butt" stroke-linejoin="round" />
<path d="M150,77.3 L165,77.3 L229,141.2 L493,141.2 L536.5,184.7 L536.5,225.5 L507,225.5 L507,178 L536.5,178 L536.5,190" fill="none" stroke="#083c76" stroke-width="13" stroke-linecap="butt" stroke-linejoin="round" />
<path d="M507,190 L507,240 L488,259 L543.5,314.5 L543.5,449" fill="none" stroke="#083c76" stroke-width="13" stroke-linecap="butt" stroke-linejoin="round" />
<path d="M543.5,370 L489,370 L489,409 L543.5,409" fill="none" stroke="#083c76" stroke-width="13" stroke-linecap="butt" stroke-linejoin="round" />
<path d="M543.5,418 L576,418 M543.5,450 L576,450 L576,384 L607.5,384 L607.5,361" fill="none" stroke="#083c76" stroke-width="13" stroke-linecap="butt" stroke-linejoin="round" />
<path d="M607.5,366 L607.5,361" fill="none" stroke="#083c76" stroke-width="13" stroke-linecap="round" stroke-linejoin="round" />
<path d="M576,435.5 L639,435.5" fill="none" stroke="#083c76" stroke-width="13" stroke-linecap="butt" stroke-linejoin="round" />
<path d="M543.5,315.8 L498,315.8 Q477,315.8 462,332 L277,513.5" fill="none" stroke="#083c76" stroke-width="13" stroke-linecap="butt" stroke-linejoin="round" />
<rect x="-17.2" y="-17.2" width="34.4" height="34.4" rx="5" fill="#083c76" transform="translate(264.6,511.6) rotate(45)"/>
<rect x="-4.3" y="-4.3" width="8.6" height="8.6" fill="#fff" transform="translate(264,512) rotate(45)"/>
<path d="M268,403.6 L294.7,430.4 L271.9,453.2 L245.1,426.5 Z" fill="none" stroke="#083c76" stroke-width="12" stroke-linecap="butt" stroke-linejoin="round" />
<path d="M294.7,430.4 L378,517 L403.5,542 L403.5,594 L355,651 L204,651 L163.7,610 L107.5,610 L107.5,824 L255,824" fill="none" stroke="#083c76" stroke-width="13" stroke-linecap="butt" stroke-linejoin="round" />
<path d="M169.7,824 L169.7,790 L213,742 L321.2,742 L321.2,787 L339,804.8 L363.1,780.7 L323.4,741" fill="none" stroke="#083c76" stroke-width="13" stroke-linecap="butt" stroke-linejoin="round" />
<path d="M232,742 L232,788 L275.8,788 M275.8,742 L275.8,805 L226,855 L226,930 L264,969 L264,982 L234,982 L234,1000" fill="none" stroke="#083c76" stroke-width="13" stroke-linecap="butt" stroke-linejoin="round" />
<path d="M252,788 L252,769 L275.8,769" fill="none" stroke="#083c76" stroke-width="13" stroke-linecap="butt" stroke-linejoin="round" />
<path d="M202,885 L246,885 M202,905 L226,905" fill="none" stroke="#083c76" stroke-width="13" stroke-linecap="butt" stroke-linejoin="round" />
<rect x="10" y="11" width="653" height="27.5" fill="#083c76"/>
<text x="336" y="30.8" font-size="16.5" fill="#fff" text-anchor="middle" font-weight="bold" textLength="455" lengthAdjust="spacingAndGlyphs" stroke="#fff" stroke-width="0.45">New Eagle • Donora • Charleroi • Roscoe • California • West Brownsville</text>
<g clip-path="url(#fr)"><path d="M511,38 L663,38 L663,106 L601,151 Q596,155 591,151 L489,67 Q485,63 489,60 Z" fill="#999" transform="translate(2,4)" filter="url(#sh)"/></g>
<path d="M511,38 L663,38 L663,106 L601,151 Q596,155 591,151 L489,67 Q485,63 489,60 Z" fill="#276a2c"/>
<g filter="url(#tsh)"><text x="598" y="70.4" font-size="30" font-weight="bold" fill="#0a200c" stroke="#0a200c" stroke-width="1.4" text-anchor="middle" textLength="74.5" lengthAdjust="spacingAndGlyphs" transform="translate(1.6,1.8)">LOCAL</text><text x="0" y="0" font-size="72" font-weight="bold" fill="#0a200c" stroke="#0a200c" stroke-width="2" text-anchor="middle" transform="translate(599.4,130.6) scale(1.10,1)">2</text></g>
<text x="598" y="70.4" font-size="30" font-weight="bold" fill="#fff" stroke="#fff" stroke-width="1.1" text-anchor="middle" textLength="74.5" lengthAdjust="spacingAndGlyphs">LOCAL</text>
<text x="0" y="0" font-size="72" font-weight="bold" fill="#fff" stroke="#fff" stroke-width="1.8" text-anchor="middle" transform="translate(597.4,128.6) scale(1.10,1)">2</text>
<text x="0" y="4.37" font-size="12" fill="#6a6a6a" text-anchor="middle" textLength="60.7" lengthAdjust="spacingAndGlyphs" transform="translate(64.35,52.50)" stroke="#6a6a6a" stroke-width="0.2">NEW EAGLE</text>
<ellipse cx="28.3" cy="76" rx="11.0" ry="7.0" fill="#fff" stroke="#222" stroke-width="0.9"/>
<text x="0" y="3.83" font-size="10.5" fill="#222" text-anchor="middle" font-weight="bold" textLength="9.6" lengthAdjust="spacingAndGlyphs" transform="translate(28.30,76.00)" stroke="#222" stroke-width="0.15">88</text>
<text x="0" y="3.83" font-size="10.5" fill="#333" text-anchor="middle" font-style="italic" textLength="32.80000000000001" lengthAdjust="spacingAndGlyphs" transform="translate(117.40,60.50)" stroke="#333" stroke-width="0.15">Foodland</text>
<path d="M141.5,55.2 L148.3,62 L141.5,68.8 L134.7,62 Z" fill="#3cae49"/>
<rect x="151.5" y="55.0" width="17" height="11" rx="1.8" fill="#9c2d93"/>
<g fill="none" stroke="#fff" stroke-width="1.15" stroke-linejoin="round"><circle cx="156.10" cy="61.70" r="2.70"/><circle cx="163.90" cy="61.70" r="2.70"/><path d="M156.10,61.70 L158.80,58.10 L162.60,58.10 L163.90,61.70 M158.80,58.10 L160.00,61.70 L162.60,58.10 M157.80,56.80 L159.80,56.80 M162.60,58.10 L161.90,56.30 L163.20,56.30"/></g>
<rect x="74.0" y="106.6" width="8.8" height="8.8" fill="#1d4b26"/>
<text x="0" y="3.83" font-size="10.5" fill="#333" text-anchor="middle" font-style="italic" textLength="21.39999999999999" lengthAdjust="spacingAndGlyphs" transform="translate(65.90,123.00)" stroke="#333" stroke-width="0.15">Lignelli</text>
<text x="0" y="3.83" font-size="10.5" fill="#333" text-anchor="middle" font-style="italic" textLength="23" lengthAdjust="spacingAndGlyphs" transform="translate(68.50,132.80)" stroke="#333" stroke-width="0.15">Manor</text>
<text x="0" y="3.65" font-size="10" fill="#fff" text-anchor="middle" font-weight="bold" textLength="22" lengthAdjust="spacingAndGlyphs" transform="translate(104.00,77.30)" stroke="#fff" stroke-width="0.35">MAIN</text>
<path d="M73.00,76.00 L61.72,76.00" stroke="#fff" stroke-width="1.2"/>
<path d="M59.00,76.00 L62.40,73.89 L62.40,78.11 Z" fill="#fff"/>
<text x="0" y="3.65" font-size="10" fill="#fff" text-anchor="middle" font-weight="bold" textLength="27" lengthAdjust="spacingAndGlyphs" transform="translate(64.50,98.00)" stroke="#fff" stroke-width="0.35">CHESS</text>
<path d="M112.20,98.00 L123.78,98.00" stroke="#fff" stroke-width="1.2"/>
<path d="M126.50,98.00 L123.10,100.11 L123.10,95.89 Z" fill="#fff"/>
<text x="0" y="3.46" font-size="9.5" fill="#444" text-anchor="middle" textLength="29.400000000000006" lengthAdjust="spacingAndGlyphs" transform="translate(93.30,134.10) rotate(-90)" >WALNUT</text>
<path d="M93.3,107 L93.3,115" stroke="#999" stroke-width="1.6"/>
<text x="0" y="3.46" font-size="9.5" fill="#444" text-anchor="middle" textLength="41.900000000000006" lengthAdjust="spacingAndGlyphs" transform="translate(119.80,135.95) rotate(-90)" >SYCAMORE</text>
<path d="M119.8,103.4 L119.8,112.3" stroke="#999" stroke-width="1.6"/>
<text x="0" y="3.46" font-size="9.5" fill="#222" text-anchor="middle" font-weight="bold" textLength="36.5" lengthAdjust="spacingAndGlyphs" transform="translate(133.90,125.25) rotate(-90)" stroke="#222" stroke-width="0.35">DRY RUN</text>
<text x="0" y="3.46" font-size="9.5" fill="#444" text-anchor="middle" textLength="16.900000000000006" lengthAdjust="spacingAndGlyphs" transform="translate(151.90,102.05) rotate(-90)" >12TH</text>
<path d="M151.9,86.5 L151.9,91.5" stroke="#999" stroke-width="1.6"/>
<text x="0" y="3.83" font-size="10.5" fill="#333" text-anchor="middle" font-style="italic" textLength="25.099999999999994" lengthAdjust="spacingAndGlyphs" transform="translate(168.85,47.00)" stroke="#333" stroke-width="0.15">Library</text>
<path d="M174,52 L174,62" fill="none" stroke="#333" stroke-width="0.8"/>
<rect x="169.75" y="60.849999999999994" width="8.5" height="8.5" fill="#1d4b26"/>
<text x="0" y="3.83" font-size="10.5" fill="#333" text-anchor="middle" font-style="italic" textLength="49.19999999999999" lengthAdjust="spacingAndGlyphs" transform="translate(214.10,56.50)" stroke="#333" stroke-width="0.15">Monongahela</text>
<text x="0" y="3.83" font-size="10.5" fill="#333" text-anchor="middle" font-style="italic" textLength="19.30000000000001" lengthAdjust="spacingAndGlyphs" transform="translate(199.15,66.70)" stroke="#333" stroke-width="0.15">Manor</text>
<path d="M190.5,72 L190.5,78" fill="none" stroke="#333" stroke-width="0.8"/>
<rect x="186.25" y="77.85" width="8.5" height="8.5" fill="#1d4b26"/>
<rect x="206.45" y="79.75" width="8.5" height="8.5" fill="#1d4b26"/>
<text x="0" y="3.83" font-size="10.5" fill="#333" text-anchor="middle" font-style="italic" textLength="94.69999999999999" lengthAdjust="spacingAndGlyphs" transform="translate(265.65,83.50)" stroke="#333" stroke-width="0.15">Monongahela Aquatorium</text>
<circle cx="216.5" cy="95" r="6.3" fill="#1f7cc4"/>
<text x="216.5" y="98.6" font-size="10" fill="#fff" text-anchor="middle" font-weight="bold" >P</text>
<text x="0" y="3.46" font-size="9.5" fill="#fff" text-anchor="middle" font-weight="bold" textLength="25.45584412271571" lengthAdjust="spacingAndGlyphs" transform="translate(177.00,88.00) rotate(45.0)" stroke="#fff" stroke-width="0.35">MAIN</text>
<text x="0" y="3.46" font-size="9.5" fill="#444" text-anchor="middle" textLength="14" lengthAdjust="spacingAndGlyphs" transform="translate(176.50,121.50) rotate(-58)" >3RD</text>
<path d="M182.7,113.5 L185.5,110.5" stroke="#999" stroke-width="1.6"/>
<text x="0" y="3.83" font-size="10.5" fill="#333" text-anchor="middle" font-style="italic" textLength="23.200000000000017" lengthAdjust="spacingAndGlyphs" transform="translate(170.20,133.50)" stroke="#333" stroke-width="0.15">Senior</text>
<text x="0" y="3.83" font-size="10.5" fill="#333" text-anchor="middle" font-style="italic" textLength="23.200000000000017" lengthAdjust="spacingAndGlyphs" transform="translate(170.20,143.70)" stroke="#333" stroke-width="0.15">Center</text>
<path d="M183,135 L195,135 L195,130" fill="none" stroke="#333" stroke-width="0.8"/>
<rect x="191.05" y="124.55000000000001" width="8.5" height="8.5" fill="#1d4b26"/>
<text x="0" y="3.46" font-size="9.5" fill="#444" text-anchor="middle" textLength="12" lengthAdjust="spacingAndGlyphs" transform="translate(201.50,145.00) rotate(-58)" >1ST</text>
<path d="M207,138.5 L210,135" stroke="#999" stroke-width="1.6"/>
<text x="0" y="3.83" font-size="10.5" fill="#333" text-anchor="middle" font-style="italic" textLength="24.5" lengthAdjust="spacingAndGlyphs" transform="translate(233.75,112.80)" stroke="#333" stroke-width="0.15">Sheetz</text>
<rect x="233.7" y="118.3" width="12" height="12" fill="#1a1a1a"/>
<text x="0" y="4.02" font-size="11.040000000000001" fill="#fff" text-anchor="middle" font-weight="bold" textLength="6.959999999999999" lengthAdjust="spacingAndGlyphs" transform="translate(239.70,124.50)" stroke="#fff" stroke-width="0.6">T</text>
<rect x="248.0" y="118.8" width="17" height="11" rx="1.8" fill="#9c2d93"/>
<g fill="none" stroke="#fff" stroke-width="1.15" stroke-linejoin="round"><circle cx="252.60" cy="125.50" r="2.70"/><circle cx="260.40" cy="125.50" r="2.70"/><path d="M252.60,125.50 L255.30,121.90 L259.10,121.90 L260.40,125.50 M255.30,121.90 L256.50,125.50 L259.10,121.90 M254.30,120.60 L256.30,120.60 M259.10,121.90 L258.40,120.10 L259.70,120.10"/></g>
<path d="M243,119 L251.8,114.5" fill="none" stroke="#333" stroke-width="0.8"/>
<rect x="251.3" y="91.4" width="52.6" height="24.6" rx="4" fill="#fff" stroke="#444" stroke-width="0.9"/>
<text x="254.70000000000002" y="102.5" font-size="9" fill="#2a2a2a" textLength="45" lengthAdjust="spacingAndGlyphs" >Commuter A,</text>
<text x="254.70000000000002" y="111.2" font-size="9" fill="#2a2a2a" textLength="35.7" lengthAdjust="spacingAndGlyphs" >Local Rt. 1</text>
<text x="0" y="4.37" font-size="12" fill="#6a6a6a" text-anchor="middle" textLength="82.19999999999999" lengthAdjust="spacingAndGlyphs" transform="translate(169.90,162.60)" stroke="#6a6a6a" stroke-width="0.2">MONONGAHELA</text>
<text x="0" y="3.10" font-size="8.5" fill="#444" text-anchor="middle" textLength="59.599999999999994" lengthAdjust="spacingAndGlyphs" transform="translate(223.00,178.20) rotate(-90)" >COUNTRY CLUB</text>
<text x="0" y="3.46" font-size="9.5" fill="#444" text-anchor="middle" textLength="22.80000000000001" lengthAdjust="spacingAndGlyphs" transform="translate(256.70,165.40) rotate(-90)" >RIDGE</text>
<path d="M256.7,147.4 L256.7,151.4" stroke="#999" stroke-width="1.6"/>
<text x="0" y="3.46" font-size="9.5" fill="#444" text-anchor="middle" textLength="30.900000000000006" lengthAdjust="spacingAndGlyphs" transform="translate(282.00,173.45) rotate(-90)" >NELSON</text>
<path d="M282,150.5 L282,155" stroke="#999" stroke-width="1.6"/>
<text x="0" y="4.37" font-size="12" fill="#6a6a6a" text-anchor="middle" textLength="34.69999999999999" lengthAdjust="spacingAndGlyphs" transform="translate(322.95,172.50)" stroke="#6a6a6a" stroke-width="0.2">BLACK</text>
<text x="0" y="4.37" font-size="12" fill="#6a6a6a" text-anchor="middle" textLength="48.69999999999999" lengthAdjust="spacingAndGlyphs" transform="translate(322.65,186.00)" stroke="#6a6a6a" stroke-width="0.2">DIAMOND</text>
<path d="M318.40,140.70 L329.60,140.70" stroke="#fff" stroke-width="1.2"/>
<path d="M332.00,140.70 L329.00,142.56 L329.00,138.84 Z M316.00,140.70 L319.00,138.84 L319.00,142.56 Z" fill="#fff"/>
<text x="0" y="3.65" font-size="10" fill="#fff" text-anchor="middle" font-weight="bold" textLength="22.69999999999999" lengthAdjust="spacingAndGlyphs" transform="translate(363.95,141.00)" stroke="#fff" stroke-width="0.35">MAIN</text>
<text x="0" y="3.65" font-size="10" fill="#fff" text-anchor="middle" font-weight="bold" textLength="34.80000000000001" lengthAdjust="spacingAndGlyphs" transform="translate(406.20,141.00)" stroke="#fff" stroke-width="0.35">RTE 837</text>
<text x="0" y="3.46" font-size="9.5" fill="#444" text-anchor="middle" textLength="24" lengthAdjust="spacingAndGlyphs" transform="translate(361.50,167.00) rotate(-90)" >JONES</text>
<path d="M361.5,148 L361.5,153" stroke="#999" stroke-width="1.6"/>
<text x="0" y="4.19" font-size="11.5" fill="#1f6db5" text-anchor="middle" font-weight="bold" font-style="italic" textLength="99" lengthAdjust="spacingAndGlyphs" font-family='"Liberation Serif", serif' transform="translate(426.50,107.00) rotate(1.5)" stroke="#1f6db5" stroke-width="0.35">Monongahela River</text>
<text x="0" y="3.83" font-size="10.5" fill="#333" text-anchor="middle" font-style="italic" textLength="45.19999999999999" lengthAdjust="spacingAndGlyphs" transform="translate(460.90,154.50)" stroke="#333" stroke-width="0.15">Palmer Park</text>
<rect x="485.25" y="150.25" width="8.5" height="8.5" fill="#1d4b26"/>
<text x="0" y="3.46" font-size="9.5" fill="#1a1a1a" text-anchor="middle" font-weight="bold" textLength="38.61735361207452" lengthAdjust="spacingAndGlyphs" transform="translate(535.25,162.35) rotate(43.74)" stroke="#1a1a1a" stroke-width="0.35">MELDON</text>
<text x="0" y="3.46" font-size="9.5" fill="#444" text-anchor="middle" textLength="17" lengthAdjust="spacingAndGlyphs" transform="translate(492.50,168.50) rotate(-58)" >15TH</text>
<path d="M498,163 L501,159" stroke="#999" stroke-width="1.6"/>
<text x="0" y="3.65" font-size="10" fill="#fff" text-anchor="middle" font-weight="bold" textLength="18.900000000000034" lengthAdjust="spacingAndGlyphs" transform="translate(519.65,178.40)" stroke="#fff" stroke-width="0.35">11TH</text>
<text x="0" y="3.83" font-size="10.5" fill="#333" text-anchor="middle" font-style="italic" textLength="59.0" lengthAdjust="spacingAndGlyphs" transform="translate(458.40,184.60)" stroke="#333" stroke-width="0.15">Donora Highrise</text>
<path d="M489,185 L504.6,185 L516,191" fill="none" stroke="#333" stroke-width="0.8"/>
<path d="M513,199.5 L530,199.5" stroke="#aaa" stroke-width="1.2"/>
<rect x="517.05" y="188.75" width="8.5" height="8.5" fill="#1d4b26"/>
<text x="0" y="3.65" font-size="10" fill="#444" text-anchor="middle" textLength="14.800000000000011" lengthAdjust="spacingAndGlyphs" transform="translate(482.90,200.30)" >6TH</text>
<path d="M491.7,199.1 L495.7,199.1" stroke="#999" stroke-width="1.6"/>
<circle cx="549.2" cy="186.9" r="6.3" fill="#1f7cc4"/>
<text x="549.2" y="190.5" font-size="10" fill="#fff" text-anchor="middle" font-weight="bold" >P</text>
<path d="M563.7,179.9 L570.7,186.9 L563.7,193.9 L556.7,186.9 Z" fill="#3cae49"/>
<text x="0" y="3.83" font-size="10.5" fill="#333" text-anchor="middle" font-style="italic" textLength="28.699999999999932" lengthAdjust="spacingAndGlyphs" transform="translate(585.55,178.80)" stroke="#333" stroke-width="0.15">MMVTA</text>
<text x="0" y="3.83" font-size="10.5" fill="#333" text-anchor="middle" font-style="italic" textLength="43.0" lengthAdjust="spacingAndGlyphs" transform="translate(592.70,188.80)" stroke="#333" stroke-width="0.15">Bus Garage</text>
<rect x="551.15" y="197.35" width="11.5" height="11.5" fill="#1a1a1a"/>
<text x="0" y="3.86" font-size="10.58" fill="#fff" text-anchor="middle" font-weight="bold" textLength="6.67" lengthAdjust="spacingAndGlyphs" transform="translate(556.90,203.30)" stroke="#fff" stroke-width="0.6">T</text>
<rect x="546.6" y="210.0" width="17" height="11" rx="1.8" fill="#9c2d93"/>
<g fill="none" stroke="#fff" stroke-width="1.15" stroke-linejoin="round"><circle cx="551.20" cy="216.70" r="2.70"/><circle cx="559.00" cy="216.70" r="2.70"/><path d="M551.20,216.70 L553.90,213.10 L557.70,213.10 L559.00,216.70 M553.90,213.10 L555.10,216.70 L557.70,213.10 M552.90,211.80 L554.90,211.80 M557.70,213.10 L557.00,211.30 L558.30,211.30"/></g>
<path d="M562.7,203.1 L567.5,203.1" fill="none" stroke="#333" stroke-width="0.8"/>
<rect x="567" y="197.2" width="50" height="21.2" rx="4" fill="#fff" stroke="#444" stroke-width="0.9"/>
<text x="570.4" y="206.2" font-size="9" fill="#2a2a2a" textLength="43.5" lengthAdjust="spacingAndGlyphs" >Commuter A,</text>
<text x="570.4" y="215" font-size="9" fill="#2a2a2a" textLength="35" lengthAdjust="spacingAndGlyphs" >Local Rt. 3</text>
<text x="0" y="3.83" font-size="10.5" fill="#333" text-anchor="middle" font-style="italic" textLength="49.80000000000001" lengthAdjust="spacingAndGlyphs" transform="translate(459.70,218.10)" stroke="#333" stroke-width="0.15">Donora Union</text>
<text x="0" y="3.83" font-size="10.5" fill="#333" text-anchor="middle" font-style="italic" textLength="35.30000000000001" lengthAdjust="spacingAndGlyphs" transform="translate(466.05,228.30)" stroke="#333" stroke-width="0.15">Pharmacy</text>
<rect x="488.75" y="213.35" width="8.5" height="8.5" fill="#1d4b26"/>
<path d="M492.4,222.2 L499.4,229.2 L492.4,236.2 L485.4,229.2 Z" fill="#3cae49"/>
<text x="0" y="3.65" font-size="10" fill="#fff" text-anchor="middle" font-weight="bold" textLength="32.29999999999998" lengthAdjust="spacingAndGlyphs" transform="translate(507.80,227.55) rotate(-90)" stroke="#fff" stroke-width="0.35">McKEAN</text>
<text x="0" y="3.65" font-size="10" fill="#fff" text-anchor="middle" font-weight="bold" textLength="16.300000000000068" lengthAdjust="spacingAndGlyphs" transform="translate(525.05,228.10)" stroke="#fff" stroke-width="0.35">3RD</text>
<text x="0" y="3.65" font-size="10" fill="#444" text-anchor="middle" textLength="29.69999999999999" lengthAdjust="spacingAndGlyphs" transform="translate(462.35,251.60)" >WALNUT</text>
<path d="M477.9,251.2 L484.6,251.2" stroke="#999" stroke-width="1.6"/>
<text x="0" y="3.65" font-size="10" fill="#444" text-anchor="middle" textLength="30.100000000000023" lengthAdjust="spacingAndGlyphs" transform="translate(528.55,251.60)" >GALIFFA</text>
<path d="M506,251.2 L510,251.2" stroke="#999" stroke-width="1.6"/>
<text x="0" y="4.37" font-size="12" fill="#6a6a6a" text-anchor="middle" textLength="43.80000000000001" lengthAdjust="spacingAndGlyphs" transform="translate(427.60,205.60)" stroke="#6a6a6a" stroke-width="0.2">DONORA</text>
<ellipse cx="338.5" cy="228.8" rx="11.75" ry="6.75" fill="#fff" stroke="#222" stroke-width="0.9"/>
<text x="0" y="3.83" font-size="10.5" fill="#222" text-anchor="middle" font-weight="bold" textLength="12.5" lengthAdjust="spacingAndGlyphs" transform="translate(338.50,228.80)" stroke="#222" stroke-width="0.15">837</text>
<text x="0" y="3.28" font-size="9" fill="#444" text-anchor="middle" textLength="48" lengthAdjust="spacingAndGlyphs" transform="translate(537.00,279.50) rotate(45)" >STAN MUSIAL</text>
<text x="0" y="3.28" font-size="9" fill="#444" text-anchor="middle" textLength="27" lengthAdjust="spacingAndGlyphs" transform="translate(529.50,286.50) rotate(45)" >BRIDGE</text>
<text x="0" y="3.46" font-size="9.5" fill="#fff" text-anchor="middle" font-weight="bold" textLength="72" lengthAdjust="spacingAndGlyphs" transform="translate(519.50,291.30) rotate(45)" stroke="#fff" stroke-width="0.35">VANCE DEICAS HWY</text>
<path d="M586.00,307.99 Q590.75,304.82 595.50,306.58 Q600.25,304.82 605.00,307.99 L605.00,314.94 Q605.00,320.48 595.50,323.30 Q586.00,320.48 586.00,314.94 Z" fill="#fff" stroke="#222" stroke-width="0.9"/>
<path d="M586.00,307.99 Q590.75,304.82 595.50,306.58 Q600.25,304.82 605.00,307.99 L605.00,310.28 L586.00,310.28 Z" fill="#1a1a1a"/>
<text x="0" y="3.34" font-size="9.152000000000001" fill="#222" text-anchor="middle" font-weight="bold" textLength="9.5" lengthAdjust="spacingAndGlyphs" transform="translate(595.50,315.56)" stroke="#222" stroke-width="0.15">70</text>
<text x="0" y="4.37" font-size="12" fill="#6a6a6a" text-anchor="middle" textLength="51.99999999999994" lengthAdjust="spacingAndGlyphs" transform="translate(493.30,351.30)" stroke="#6a6a6a" stroke-width="0.2">PRICEDALE</text>
<path d="M542.80,332.72 L542.80,342.28" stroke="#fff" stroke-width="1.2"/>
<path d="M542.80,345.00 L540.69,341.60 L544.91,341.60 Z M542.80,330.00 L544.91,333.40 L540.69,333.40 Z" fill="#fff"/>
<text x="0" y="3.83" font-size="10.5" fill="#fff" text-anchor="middle" font-weight="bold" textLength="46.39999999999998" lengthAdjust="spacingAndGlyphs" transform="translate(509.60,369.70)" stroke="#fff" stroke-width="0.35">PRICEDALE</text>
<rect x="499.1" y="383.9" width="10" height="10" fill="#1a1a1a"/>
<text x="0" y="3.35" font-size="9.200000000000001" fill="#fff" text-anchor="middle" font-weight="bold" textLength="5.8" lengthAdjust="spacingAndGlyphs" transform="translate(504.10,389.10)" stroke="#fff" stroke-width="0.6">T</text>
<rect x="511.59999999999997" y="384.15" width="15.4" height="9.5" rx="1.8" fill="#9c2d93"/>
<g fill="none" stroke="#fff" stroke-width="0.99" stroke-linejoin="round"><circle cx="515.93" cy="389.94" r="2.33"/><circle cx="522.67" cy="389.94" r="2.33"/><path d="M515.93,389.94 L518.26,386.83 L521.55,386.83 L522.67,389.94 M518.26,386.83 L519.30,389.94 L521.55,386.83 M517.40,385.70 L519.13,385.70 M521.55,386.83 L520.94,385.27 L522.06,385.27"/></g>
<path d="M504.1,394 L504.1,400.7 L483.8,400.7" fill="none" stroke="#333" stroke-width="0.8"/>
<path d="M523.9,378.5 L531.6,378.5 L531.6,389" fill="none" stroke="#1a1a1a" stroke-width="1.2"/>
<path d="M528.8,385.6 L531.6,389.6 L534.4,385.6" fill="none" stroke="#1a1a1a" stroke-width="1.2"/>
<path d="M519.70,408.60 L508.92,408.60" stroke="#fff" stroke-width="1.2"/>
<path d="M506.20,408.60 L509.60,406.49 L509.60,410.71 Z" fill="#fff"/>
<text x="0" y="3.83" font-size="10.5" fill="#fff" text-anchor="middle" font-weight="bold" textLength="65.60000000000002" lengthAdjust="spacingAndGlyphs" transform="translate(543.90,396.70) rotate(-90)" stroke="#fff" stroke-width="0.35">ROSTRAVER RD</text>
<path d="M560.3,408.6 L552,408.6 L552,398.5" fill="none" stroke="#1a1a1a" stroke-width="1.2"/>
<path d="M549.2,401.3 L552,397.5 L554.8,401.3" fill="none" stroke="#1a1a1a" stroke-width="1.2"/>
<path d="M575.50,391.72 L575.50,400.68" stroke="#fff" stroke-width="1.2"/>
<path d="M575.50,403.40 L573.39,400.00 L577.61,400.00 Z M575.50,389.00 L577.61,392.40 L573.39,392.40 Z" fill="#fff"/>
<rect x="586.25" y="396.05" width="8.5" height="8.5" fill="#1d4b26"/>
<text x="0" y="3.83" font-size="10.5" fill="#333" text-anchor="middle" font-style="italic" textLength="58.19999999999993" lengthAdjust="spacingAndGlyphs" transform="translate(626.70,399.80)" stroke="#333" stroke-width="0.15">Tri County Plaza</text>
<text x="0" y="3.83" font-size="10.5" fill="#333" text-anchor="middle" font-style="italic" textLength="41.60000000000002" lengthAdjust="spacingAndGlyphs" transform="translate(618.40,409.90)" stroke="#333" stroke-width="0.15">Giant Eagle</text>
<text x="0" y="3.83" font-size="10.5" fill="#333" text-anchor="middle" font-style="italic" textLength="20.600000000000023" lengthAdjust="spacingAndGlyphs" transform="translate(623.70,348.80)" stroke="#333" stroke-width="0.15">Ollies</text>
<rect x="618.55" y="354.55" width="8.5" height="8.5" fill="#1d4b26"/>
<text x="0" y="3.83" font-size="10.5" fill="#fff" text-anchor="middle" font-weight="bold" textLength="43.5" lengthAdjust="spacingAndGlyphs" transform="translate(604.55,435.00)" stroke="#fff" stroke-width="0.35">FINLEY RD</text>
<text x="0" y="3.65" font-size="10" fill="#444" text-anchor="middle" textLength="38.099999999999966" lengthAdjust="spacingAndGlyphs" transform="translate(487.35,434.90)" >BROAD AV</text>
<path d="M566.5,450.3 L574.9,450.3 L574.9,441.5" fill="none" stroke="#fff" stroke-width="1.3"/>
<path d="M572.1,444.3 L574.9,440.5 L577.7,444.3" fill="none" stroke="#fff" stroke-width="1.3"/>
<rect x="538.35" y="460.55" width="8.5" height="8.5" fill="#1d4b26"/>
<text x="0" y="3.83" font-size="10.5" fill="#333" text-anchor="middle" font-style="italic" textLength="12.899999999999977" lengthAdjust="spacingAndGlyphs" transform="translate(542.35,476.40)" stroke="#333" stroke-width="0.15">Aldi</text>
<rect x="599.05" y="452.05" width="8.5" height="8.5" fill="#1d4b26"/>
<text x="0" y="3.83" font-size="10.5" fill="#333" text-anchor="middle" font-style="italic" textLength="10.0" lengthAdjust="spacingAndGlyphs" transform="translate(602.60,467.80)" stroke="#333" stroke-width="0.15">Big</text>
<text x="0" y="3.83" font-size="10.5" fill="#333" text-anchor="middle" font-style="italic" textLength="12.899999999999977" lengthAdjust="spacingAndGlyphs" transform="translate(602.55,477.90)" stroke="#333" stroke-width="0.15">Lots</text>
<rect x="634.35" y="447.75" width="8.5" height="8.5" fill="#1d4b26"/>
<text x="0" y="3.83" font-size="10.5" fill="#333" text-anchor="middle" font-style="italic" textLength="22.899999999999977" lengthAdjust="spacingAndGlyphs" transform="translate(639.15,462.00)" stroke="#333" stroke-width="0.15">Gabes</text>
<text x="0" y="3.65" font-size="10" fill="#fff" text-anchor="middle" font-weight="bold" textLength="20" lengthAdjust="spacingAndGlyphs" transform="translate(373.70,418.00) rotate(-46)" stroke="#fff" stroke-width="0.35">I-70</text>
<path d="M399.47,390.62 L407.03,383.38" stroke="#fff" stroke-width="1.2"/>
<path d="M409.00,381.50 L408.00,385.37 L405.09,382.33 Z M397.50,392.50 L398.50,388.63 L401.41,391.67 Z" fill="#fff"/>
<path d="M427.80,348.84 Q432.80,345.60 437.80,347.40 Q442.80,345.60 447.80,348.84 L447.80,355.95 Q447.80,361.62 437.80,364.50 Q427.80,361.62 427.80,355.95 Z" fill="#fff" stroke="#222" stroke-width="0.9"/>
<path d="M427.80,348.84 Q432.80,345.60 437.80,347.40 Q442.80,345.60 447.80,348.84 L447.80,351.18 L427.80,351.18 Z" fill="#1a1a1a"/>
<text x="0" y="3.41" font-size="9.36" fill="#222" text-anchor="middle" font-weight="bold" textLength="10.0" lengthAdjust="spacingAndGlyphs" transform="translate(437.80,356.58)" stroke="#222" stroke-width="0.15">70</text>
<rect x="427.3" y="376.2" width="48.1" height="35.3" rx="4" fill="#fff" stroke="#444" stroke-width="0.9"/>
<text x="0" y="3.65" font-size="10" fill="#222" text-anchor="middle" font-weight="bold" textLength="35.30000000000001" lengthAdjust="spacingAndGlyphs" transform="translate(452.05,383.20)" stroke="#222" stroke-width="0.35">Walmart</text>
<path d="M431,389.4 L472,389.4" fill="none" stroke="#444" stroke-width="0.7"/>
<text x="0" y="3.28" font-size="9" fill="#222" text-anchor="middle" textLength="42.0" lengthAdjust="spacingAndGlyphs" transform="translate(451.50,396.80)" >Local Rt. 1,</text>
<text x="0" y="3.28" font-size="9" fill="#222" text-anchor="middle" textLength="39.5" lengthAdjust="spacingAndGlyphs" transform="translate(451.25,404.40)" >Local Rt. 3</text>
<path d="M475.4,400.7 L483.8,400.7" fill="none" stroke="#333" stroke-width="0.8"/>
<text x="0" y="4.37" font-size="12" fill="#6a6a6a" text-anchor="middle" textLength="33.900000000000034" lengthAdjust="spacingAndGlyphs" transform="translate(418.85,428.40)" stroke="#6a6a6a" stroke-width="0.2">NORTH</text>
<text x="0" y="4.37" font-size="12" fill="#6a6a6a" text-anchor="middle" textLength="72.0" lengthAdjust="spacingAndGlyphs" transform="translate(419.60,441.10)" stroke="#6a6a6a" stroke-width="0.2">BELLE VERNON</text>
<text x="0" y="4.37" font-size="12" fill="#6a6a6a" text-anchor="middle" textLength="36.10000000000002" lengthAdjust="spacingAndGlyphs" transform="translate(156.75,241.50)" stroke="#6a6a6a" stroke-width="0.2">FISHER</text>
<text x="0" y="4.37" font-size="12" fill="#6a6a6a" text-anchor="middle" textLength="44.10000000000002" lengthAdjust="spacingAndGlyphs" transform="translate(156.75,254.90)" stroke="#6a6a6a" stroke-width="0.2">HEIGHTS</text>
<ellipse cx="189.5" cy="264.3" rx="10.0" ry="6.75" fill="#fff" stroke="#222" stroke-width="0.9"/>
<text x="0" y="3.83" font-size="10.5" fill="#222" text-anchor="middle" font-weight="bold" textLength="9.6" lengthAdjust="spacingAndGlyphs" transform="translate(189.50,264.30)" stroke="#222" stroke-width="0.15">88</text>
<text x="0" y="4.37" font-size="12" fill="#6a6a6a" text-anchor="middle" textLength="36" lengthAdjust="spacingAndGlyphs" transform="translate(162.00,324.90)" stroke="#6a6a6a" stroke-width="0.2">NORTH</text>
<text x="0" y="4.37" font-size="12" fill="#6a6a6a" text-anchor="middle" textLength="59" lengthAdjust="spacingAndGlyphs" transform="translate(161.50,338.10)" stroke="#6a6a6a" stroke-width="0.2">CHARLEROI</text>
<text x="0" y="3.83" font-size="10.5" fill="#222" text-anchor="middle" font-weight="bold" textLength="31.900000000000034" lengthAdjust="spacingAndGlyphs" transform="translate(243.15,326.00)" stroke="#222" stroke-width="0.35">MMVTA</text>
<text x="0" y="3.83" font-size="10.5" fill="#222" text-anchor="middle" font-weight="bold" textLength="28.600000000000023" lengthAdjust="spacingAndGlyphs" transform="translate(241.50,336.30)" stroke="#222" stroke-width="0.35">Transit</text>
<text x="0" y="3.83" font-size="10.5" fill="#222" text-anchor="middle" font-weight="bold" textLength="26.5" lengthAdjust="spacingAndGlyphs" transform="translate(240.45,346.40)" stroke="#222" stroke-width="0.35">Center</text>
<path d="M241,353 L241,366 L227,376" fill="none" stroke="#333" stroke-width="0.8"/>
<path d="M252,373 L212,412" stroke="#aaa" stroke-width="1.4"/>
<text x="0" y="3.10" font-size="8.5" fill="#444" text-anchor="middle" textLength="15" lengthAdjust="spacingAndGlyphs" transform="translate(260.00,364.00) rotate(-45)" >12TH</text>
<rect x="211.5" y="356.8" width="17" height="11" rx="1.8" fill="#9c2d93"/>
<g fill="none" stroke="#fff" stroke-width="1.15" stroke-linejoin="round"><circle cx="216.10" cy="363.50" r="2.70"/><circle cx="223.90" cy="363.50" r="2.70"/><path d="M216.10,363.50 L218.80,359.90 L222.60,359.90 L223.90,363.50 M218.80,359.90 L220.00,363.50 L222.60,359.90 M217.80,358.60 L219.80,358.60 M222.60,359.90 L221.90,358.10 L223.20,358.10"/></g>
<rect x="215.1" y="369.0" width="11.2" height="11.2" fill="#1a1a1a"/>
<text x="0" y="3.76" font-size="10.304" fill="#fff" text-anchor="middle" font-weight="bold" textLength="6.4959999999999996" lengthAdjust="spacingAndGlyphs" transform="translate(220.70,374.80)" stroke="#fff" stroke-width="0.6">T</text>
<path d="M224,379.59999999999997 L230.8,386.4 L224,393.2 L217.2,386.4 Z" fill="#3cae49"/>
<rect x="217.0" y="395.5" width="17" height="11" rx="1.8" fill="#9c2d93"/>
<g fill="none" stroke="#fff" stroke-width="1.15" stroke-linejoin="round"><circle cx="221.60" cy="402.20" r="2.70"/><circle cx="229.40" cy="402.20" r="2.70"/><path d="M221.60,402.20 L224.30,398.60 L228.10,398.60 L229.40,402.20 M224.30,398.60 L225.50,402.20 L228.10,398.60 M223.30,397.30 L225.30,397.30 M228.10,398.60 L227.40,396.80 L228.70,396.80"/></g>
<rect x="235.75" y="396.05" width="8.5" height="8.5" fill="#1d4b26"/>
<text x="0" y="3.83" font-size="10.5" fill="#333" text-anchor="middle" font-style="italic" textLength="74.19999999999999" lengthAdjust="spacingAndGlyphs" transform="translate(158.10,409.60)" stroke="#333" stroke-width="0.15">Char House Highrise</text>
<path d="M197,410 L239.5,410 L239.5,405" fill="none" stroke="#333" stroke-width="0.8"/>
<text x="0" y="3.83" font-size="10.5" fill="#333" text-anchor="middle" font-style="italic" textLength="33.60000000000002" lengthAdjust="spacingAndGlyphs" transform="translate(285.80,378.80)" stroke="#333" stroke-width="0.15">Chamber</text>
<text x="0" y="3.83" font-size="10.5" fill="#333" text-anchor="middle" font-style="italic" textLength="18.700000000000045" lengthAdjust="spacingAndGlyphs" transform="translate(293.25,389.00)" stroke="#333" stroke-width="0.15">Plaza</text>
<circle cx="285.2" cy="399.1" r="6.3" fill="#1f7cc4"/>
<text x="285.2" y="402.70000000000005" font-size="10" fill="#fff" text-anchor="middle" font-weight="bold" >P</text>
<rect x="293.55" y="394.85" width="8.5" height="8.5" fill="#1d4b26"/>
<rect x="309.7" y="383.3" width="51.5" height="22.9" rx="4" fill="#fff" stroke="#444" stroke-width="0.9"/>
<text x="313.09999999999997" y="392.7" font-size="9" fill="#2a2a2a" textLength="44" lengthAdjust="spacingAndGlyphs" >Commuter A,</text>
<text x="313.09999999999997" y="401.6" font-size="9" fill="#2a2a2a" textLength="35" lengthAdjust="spacingAndGlyphs" >Local Rt. 1</text>
<rect x="296.7" y="406.9" width="11.2" height="11.2" fill="#1a1a1a"/>
<text x="0" y="3.76" font-size="10.304" fill="#fff" text-anchor="middle" font-weight="bold" textLength="6.4959999999999996" lengthAdjust="spacingAndGlyphs" transform="translate(302.30,412.70)" stroke="#fff" stroke-width="0.6">T</text>
<path d="M301.7,407.4 L301.7,403 L309.7,403" fill="none" stroke="#333" stroke-width="0.8"/>
<text x="0" y="3.83" font-size="10.5" fill="#333" text-anchor="middle" font-style="italic" textLength="20.799999999999955" lengthAdjust="spacingAndGlyphs" transform="translate(324.00,413.00)" stroke="#333" stroke-width="0.15">Dollar</text>
<text x="0" y="3.83" font-size="10.5" fill="#333" text-anchor="middle" font-style="italic" textLength="27.599999999999966" lengthAdjust="spacingAndGlyphs" transform="translate(327.40,422.50)" stroke="#333" stroke-width="0.15">General</text>
<rect x="313.75" y="427.15" width="8.5" height="8.5" fill="#1d4b26"/>
<rect x="323.8" y="431.0" width="17" height="11" rx="1.8" fill="#9c2d93"/>
<g fill="none" stroke="#fff" stroke-width="1.15" stroke-linejoin="round"><circle cx="328.40" cy="437.70" r="2.70"/><circle cx="336.20" cy="437.70" r="2.70"/><path d="M328.40,437.70 L331.10,434.10 L334.90,434.10 L336.20,437.70 M331.10,434.10 L332.30,437.70 L334.90,434.10 M330.10,432.80 L332.10,432.80 M334.90,434.10 L334.20,432.30 L335.50,432.30"/></g>
<text x="0" y="3.46" font-size="9.5" fill="#fff" text-anchor="middle" font-weight="bold" textLength="14" lengthAdjust="spacingAndGlyphs" transform="translate(247.30,421.40) rotate(-45)" stroke="#fff" stroke-width="0.35">6TH</text>
<path d="M263.60,404.30 L258.30,409.75" stroke="#fff" stroke-width="1.2"/>
<path d="M256.40,411.70 L257.26,407.79 L260.28,410.73 Z" fill="#fff"/>
<text x="0" y="3.46" font-size="9.5" fill="#fff" text-anchor="middle" font-weight="bold" textLength="33" lengthAdjust="spacingAndGlyphs" transform="translate(282.20,417.00) rotate(45)" stroke="#fff" stroke-width="0.35">McKEAN</text>
<text x="0" y="3.46" font-size="9.5" fill="#fff" text-anchor="middle" font-weight="bold" textLength="13" lengthAdjust="spacingAndGlyphs" transform="translate(283.00,448.00) rotate(-45)" stroke="#fff" stroke-width="0.35">1ST</text>
<path d="M265.10,450.40 L271.28,455.98" stroke="#fff" stroke-width="1.2"/>
<path d="M273.30,457.80 L269.36,457.09 L272.19,453.96 Z" fill="#fff"/>
<text x="0" y="4.37" font-size="12" fill="#6a6a6a" text-anchor="middle" textLength="53.70000000000002" lengthAdjust="spacingAndGlyphs" transform="translate(189.55,431.40)" stroke="#6a6a6a" stroke-width="0.2">CHARLEROI</text>
<rect x="232.8" y="436.59999999999997" width="11.2" height="11.2" fill="#1a1a1a"/>
<text x="0" y="3.76" font-size="10.304" fill="#fff" text-anchor="middle" font-weight="bold" textLength="6.4959999999999996" lengthAdjust="spacingAndGlyphs" transform="translate(238.40,442.40)" stroke="#fff" stroke-width="0.6">T</text>
<path d="M217.8,454 L217.8,444.6 L232.5,444.6" fill="none" stroke="#333" stroke-width="0.8"/>
<rect x="171.2" y="454" width="50.8" height="24" rx="4" fill="#fff" stroke="#444" stroke-width="0.9"/>
<text x="174.6" y="464.5" font-size="9" fill="#2a2a2a" textLength="44" lengthAdjust="spacingAndGlyphs" >Commuter A,</text>
<text x="174.6" y="473.5" font-size="9" fill="#2a2a2a" textLength="35" lengthAdjust="spacingAndGlyphs" >Local Rt. 1</text>
<text x="0" y="3.46" font-size="9.5" fill="#444" text-anchor="middle" textLength="13" lengthAdjust="spacingAndGlyphs" transform="translate(241.50,455.00) rotate(-58)" >5TH</text>
<path d="M247.5,448 L250,445" stroke="#999" stroke-width="1.6"/>
<text x="0" y="3.46" font-size="9.5" fill="#1a1a1a" text-anchor="middle" font-weight="bold" textLength="56.3157171667022" lengthAdjust="spacingAndGlyphs" transform="translate(270.85,471.75) rotate(43.13)" stroke="#1a1a1a" stroke-width="0.35">FALLOWFIELD</text>
<path d="M304.29,455.96 L310.71,461.94" stroke="#1a1a1a" stroke-width="1.2"/>
<path d="M312.70,463.80 L308.78,463.02 L311.65,459.94 Z M302.30,454.10 L306.22,454.88 L303.35,457.96 Z" fill="#1a1a1a"/>
<path d="M304.42,485.58 L311.08,478.92" stroke="#fff" stroke-width="1.2"/>
<path d="M313.00,477.00 L312.09,480.89 L309.11,477.91 Z M302.50,487.50 L303.41,483.61 L306.39,486.59 Z" fill="#fff"/>
<ellipse cx="345.5" cy="481.5" rx="10.25" ry="6.75" fill="#fff" stroke="#222" stroke-width="0.9"/>
<text x="0" y="3.83" font-size="10.5" fill="#222" text-anchor="middle" font-weight="bold" textLength="9.6" lengthAdjust="spacingAndGlyphs" transform="translate(345.50,481.50)" stroke="#222" stroke-width="0.15">88</text>
<text x="0" y="4.37" font-size="12" fill="#6a6a6a" text-anchor="middle" textLength="37" lengthAdjust="spacingAndGlyphs" transform="translate(326.50,502.00)" stroke="#6a6a6a" stroke-width="0.2">SPEERS</text>
<text x="0" y="3.83" font-size="10.5" fill="#333" text-anchor="middle" font-style="italic" textLength="25.5" lengthAdjust="spacingAndGlyphs" transform="translate(227.75,491.60)" stroke="#333" stroke-width="0.15">Speers</text>
<text x="0" y="3.83" font-size="10.5" fill="#333" text-anchor="middle" font-style="italic" textLength="39.5" lengthAdjust="spacingAndGlyphs" transform="translate(220.75,501.80)" stroke="#333" stroke-width="0.15">Monument</text>
<rect x="241.95" y="487.35" width="8.5" height="8.5" fill="#1d4b26"/>
<path d="M271,520 L264.5,526.5 L258,520" fill="none" stroke="#fff" stroke-width="1.3"/>
<path d="M257.5,524.5 L257.5,519.5 L262.5,519.5" fill="none" stroke="#fff" stroke-width="1.3"/>
<text x="0" y="3.46" font-size="9.5" fill="#1a1a1a" text-anchor="middle" font-weight="bold" textLength="69.93289640791376" lengthAdjust="spacingAndGlyphs" transform="translate(309.00,544.05) rotate(45.06)" stroke="#1a1a1a" stroke-width="0.35">TWILIGHT HOLLOW</text>
<path d="M199.85,549.47 Q204.68,546.05 209.50,547.95 Q214.32,546.05 219.15,549.47 L219.15,556.98 Q219.15,562.96 209.50,566.00 Q199.85,562.96 199.85,556.98 Z" fill="#fff" stroke="#222" stroke-width="0.9"/>
<path d="M199.85,549.47 Q204.68,546.05 209.50,547.95 Q214.32,546.05 219.15,549.47 L219.15,551.94 L199.85,551.94 Z" fill="#1a1a1a"/>
<text x="0" y="3.60" font-size="9.88" fill="#222" text-anchor="middle" font-weight="bold" textLength="9.65" lengthAdjust="spacingAndGlyphs" transform="translate(209.50,557.64)" stroke="#222" stroke-width="0.15">70</text>
<text x="0" y="3.46" font-size="9.5" fill="#fff" text-anchor="middle" font-weight="bold" textLength="45.64263357870578" lengthAdjust="spacingAndGlyphs" transform="translate(180.50,625.25) rotate(47.22)" stroke="#fff" stroke-width="0.35">ELCO HILL</text>
<text x="0" y="3.46" font-size="9.5" fill="#444" text-anchor="middle" textLength="32.200000000000045" lengthAdjust="spacingAndGlyphs" transform="translate(205.50,617.60) rotate(-90)" >HOLLOW</text>
<path d="M205.5,636.5 L205.5,644" stroke="#999" stroke-width="1.6"/>
<text x="0" y="3.46" font-size="9.5" fill="#444" text-anchor="middle" textLength="24.0" lengthAdjust="spacingAndGlyphs" transform="translate(247.90,623.20) rotate(-90)" >JOBES</text>
<path d="M247.9,638 L247.9,645" stroke="#999" stroke-width="1.6"/>
<text x="0" y="3.46" font-size="9.5" fill="#444" text-anchor="middle" textLength="33.89999999999998" lengthAdjust="spacingAndGlyphs" transform="translate(288.50,618.15) rotate(-90)" >HOWARD</text>
<path d="M288.5,638 L288.5,645" stroke="#999" stroke-width="1.6"/>
<text x="0" y="3.83" font-size="10.5" fill="#333" text-anchor="middle" font-style="italic" textLength="22.599999999999966" lengthAdjust="spacingAndGlyphs" transform="translate(311.10,598.40)" stroke="#333" stroke-width="0.15">Dollar</text>
<text x="0" y="3.83" font-size="10.5" fill="#333" text-anchor="middle" font-style="italic" textLength="28.19999999999999" lengthAdjust="spacingAndGlyphs" transform="translate(313.90,608.30)" stroke="#333" stroke-width="0.15">General</text>
<path d="M308.3,612.5 L308.3,629.5" fill="none" stroke="#333" stroke-width="0.8"/>
<rect x="304.05" y="629.45" width="8.5" height="8.5" fill="#1d4b26"/>
<text x="0" y="3.46" font-size="9.5" fill="#444" text-anchor="middle" textLength="19.700000000000045" lengthAdjust="spacingAndGlyphs" transform="translate(323.30,623.85) rotate(-90)" >RUTH</text>
<path d="M323.3,637 L323.3,644" stroke="#999" stroke-width="1.6"/>
<text x="0" y="4.37" font-size="12" fill="#6a6a6a" text-anchor="middle" textLength="55.0" lengthAdjust="spacingAndGlyphs" transform="translate(357.20,592.50)" stroke="#6a6a6a" stroke-width="0.2">ALLENPORT</text>
<text x="0" y="4.37" font-size="12" fill="#6a6a6a" text-anchor="middle" textLength="43.80000000000001" lengthAdjust="spacingAndGlyphs" transform="translate(371.30,560.90)" stroke="#6a6a6a" stroke-width="0.2">DUNLEVY</text>
<text x="0" y="3.83" font-size="10.5" fill="#333" text-anchor="middle" font-style="italic" textLength="28.80000000000001" lengthAdjust="spacingAndGlyphs" transform="translate(404.20,493.10)" stroke="#333" stroke-width="0.15">Dunlevy</text>
<text x="0" y="3.83" font-size="10.5" fill="#333" text-anchor="middle" font-style="italic" textLength="30.19999999999999" lengthAdjust="spacingAndGlyphs" transform="translate(404.90,502.70)" stroke="#333" stroke-width="0.15">Gardens</text>
<rect x="391.75" y="509.15" width="8.5" height="8.5" fill="#1d4b26"/>
<text x="0" y="3.10" font-size="8.5" fill="#444" text-anchor="middle" textLength="36" lengthAdjust="spacingAndGlyphs" transform="translate(355.80,540.30) rotate(-45)" >MANNINA</text>
<path d="M370,526 L373,523" stroke="#999" stroke-width="1.6"/>
<path d="M403.50,567.02 L403.50,577.08" stroke="#fff" stroke-width="1.2"/>
<path d="M403.50,579.80 L401.39,576.40 L405.61,576.40 Z M403.50,564.30 L405.61,567.70 L401.39,567.70 Z" fill="#fff"/>
<text x="0" y="4.19" font-size="11.5" fill="#1f6db5" text-anchor="middle" font-weight="bold" font-style="italic" textLength="97" lengthAdjust="spacingAndGlyphs" font-family='"Liberation Serif", serif' transform="translate(439.00,559.00) rotate(79)" stroke="#1f6db5" stroke-width="0.35">Monongahela River</text>
<text x="0" y="4.37" font-size="12" fill="#6a6a6a" text-anchor="middle" textLength="28.19999999999999" lengthAdjust="spacingAndGlyphs" transform="translate(472.30,486.00)" stroke="#6a6a6a" stroke-width="0.2">BELLE</text>
<text x="0" y="4.37" font-size="12" fill="#6a6a6a" text-anchor="middle" textLength="37.5" lengthAdjust="spacingAndGlyphs" transform="translate(471.25,498.80)" stroke="#6a6a6a" stroke-width="0.2">VERNON</text>
<text x="0" y="3.46" font-size="9.5" fill="#fff" text-anchor="middle" font-weight="bold" textLength="20" lengthAdjust="spacingAndGlyphs" transform="translate(379.60,620.10) rotate(-50)" stroke="#fff" stroke-width="0.35">MAIN</text>
<path d="M395,615.5 L402,622" stroke="#999" stroke-width="1.6"/>
<text x="0" y="3.10" font-size="8.5" fill="#444" text-anchor="middle" textLength="30" lengthAdjust="spacingAndGlyphs" transform="translate(412.30,633.50) rotate(42)" >LOCUST</text>
<text x="0" y="3.10" font-size="8.5" fill="#444" text-anchor="middle" textLength="15" lengthAdjust="spacingAndGlyphs" transform="translate(379.00,654.30) rotate(45)" >ELM</text>
<text x="0" y="4.37" font-size="12" fill="#6a6a6a" text-anchor="middle" textLength="56.400000000000034" lengthAdjust="spacingAndGlyphs" transform="translate(426.40,652.80)" stroke="#6a6a6a" stroke-width="0.2">STOCKDALE</text>
<ellipse cx="344.7" cy="650.4" rx="10.5" ry="6.75" fill="#fff" stroke="#222" stroke-width="0.9"/>
<text x="0" y="3.83" font-size="10.5" fill="#222" text-anchor="middle" font-weight="bold" textLength="9.6" lengthAdjust="spacingAndGlyphs" transform="translate(344.70,650.40)" stroke="#222" stroke-width="0.15">88</text>
<text x="0" y="3.83" font-size="10.5" fill="#333" text-anchor="middle" font-style="italic" textLength="34.19999999999999" lengthAdjust="spacingAndGlyphs" transform="translate(330.60,668.00)" stroke="#333" stroke-width="0.15">Interstate</text>
<text x="0" y="3.83" font-size="10.5" fill="#333" text-anchor="middle" font-style="italic" textLength="20.80000000000001" lengthAdjust="spacingAndGlyphs" transform="translate(323.90,678.00)" stroke="#333" stroke-width="0.15">Paper</text>
<rect x="302.45" y="662.55" width="8.5" height="8.5" fill="#1d4b26"/>
<text x="0" y="4.37" font-size="12" fill="#6a6a6a" text-anchor="middle" textLength="38.69999999999999" lengthAdjust="spacingAndGlyphs" transform="translate(271.85,670.70)" stroke="#6a6a6a" stroke-width="0.2">ROSCOE</text>
<text x="0" y="4.37" font-size="12" fill="#6a6a6a" text-anchor="middle" textLength="23.400000000000006" lengthAdjust="spacingAndGlyphs" transform="translate(173.30,658.30)" stroke="#6a6a6a" stroke-width="0.2">ELCO</text>
<ellipse cx="132.4" cy="697.3" rx="10.0" ry="6.75" fill="#fff" stroke="#222" stroke-width="0.9"/>
<text x="0" y="3.83" font-size="10.5" fill="#222" text-anchor="middle" font-weight="bold" textLength="9.6" lengthAdjust="spacingAndGlyphs" transform="translate(132.40,697.30)" stroke="#222" stroke-width="0.15">88</text>
<text x="0" y="4.37" font-size="12" fill="#6a6a6a" text-anchor="middle" textLength="24.0" lengthAdjust="spacingAndGlyphs" transform="translate(172.60,714.30)" stroke="#6a6a6a" stroke-width="0.2">COAL</text>
<text x="0" y="4.37" font-size="12" fill="#6a6a6a" text-anchor="middle" textLength="37.5" lengthAdjust="spacingAndGlyphs" transform="translate(172.35,727.00)" stroke="#6a6a6a" stroke-width="0.2">CENTER</text>
<text x="0" y="3.46" font-size="9.5" fill="#444" text-anchor="middle" textLength="39.5" lengthAdjust="spacingAndGlyphs" transform="translate(210.00,707.25) rotate(-90)" >MECHANIC</text>
<path d="M210,729 L210,736" stroke="#999" stroke-width="1.6"/>
<text x="0" y="3.10" font-size="8.5" fill="#444" text-anchor="middle" textLength="44" lengthAdjust="spacingAndGlyphs" transform="translate(144.40,758.80) rotate(45)" >HIGH POINT</text>
<text x="0" y="3.83" font-size="10.5" fill="#333" text-anchor="middle" font-style="italic" textLength="22.599999999999994" lengthAdjust="spacingAndGlyphs" transform="translate(173.30,739.70)" stroke="#333" stroke-width="0.15">Rotary</text>
<text x="0" y="3.83" font-size="10.5" fill="#333" text-anchor="middle" font-style="italic" textLength="16.900000000000006" lengthAdjust="spacingAndGlyphs" transform="translate(173.35,749.60)" stroke="#333" stroke-width="0.15">Park</text>
<rect x="168.25" y="755.25" width="8.5" height="8.5" fill="#1d4b26"/>
<path d="M109.20,695.72 L109.20,705.88" stroke="#fff" stroke-width="1.2"/>
<path d="M109.20,708.60 L107.09,705.20 L111.31,705.20 Z M109.20,693.00 L111.31,696.40 L107.09,696.40 Z" fill="#fff"/>
<ellipse cx="108" cy="514" rx="10.0" ry="6.75" fill="#fff" stroke="#222" stroke-width="0.9"/>
<text x="0" y="3.83" font-size="10.5" fill="#222" text-anchor="middle" font-weight="bold" textLength="9.6" lengthAdjust="spacingAndGlyphs" transform="translate(108.00,514.00)" stroke="#222" stroke-width="0.15">43</text>
<ellipse cx="107.7" cy="848.9" rx="10.3" ry="6.0" fill="#fff" stroke="#222" stroke-width="0.9"/>
<text x="0" y="3.50" font-size="9.600000000000001" fill="#222" text-anchor="middle" font-weight="bold" textLength="9.6" lengthAdjust="spacingAndGlyphs" transform="translate(107.70,848.90)" stroke="#222" stroke-width="0.15">43</text>
<text x="0" y="3.46" font-size="9.5" fill="#fff" text-anchor="middle" font-weight="bold" textLength="15" lengthAdjust="spacingAndGlyphs" transform="translate(200.70,756.20) rotate(-45)" stroke="#fff" stroke-width="0.35">3RD</text>
<path d="M231.72,741.20 L241.78,741.20" stroke="#fff" stroke-width="1.2"/>
<path d="M244.50,741.20 L241.10,743.31 L241.10,739.09 Z M229.00,741.20 L232.40,739.09 L232.40,743.31 Z" fill="#fff"/>
<text x="0" y="3.65" font-size="10" fill="#fff" text-anchor="middle" font-weight="bold" textLength="17" lengthAdjust="spacingAndGlyphs" transform="translate(261.50,742.00)" stroke="#fff" stroke-width="0.35">3RD</text>
<path d="M233.20,748.20 L233.20,756.78" stroke="#fff" stroke-width="1.2"/>
<path d="M233.20,759.50 L231.09,756.10 L235.31,756.10 Z" fill="#fff"/>
<text x="0" y="3.46" font-size="9.5" fill="#fff" text-anchor="middle" font-weight="bold" textLength="26.800000000000068" lengthAdjust="spacingAndGlyphs" transform="translate(234.60,775.80) rotate(-90)" stroke="#fff" stroke-width="0.35">UNION</text>
<path d="M265.70,768.00 L258.52,768.00" stroke="#fff" stroke-width="1.2"/>
<path d="M255.80,768.00 L259.20,765.89 L259.20,770.11 Z" fill="#fff"/>
<text x="0" y="3.46" font-size="9.5" fill="#fff" text-anchor="middle" font-weight="bold" textLength="24.0" lengthAdjust="spacingAndGlyphs" transform="translate(277.00,778.60) rotate(-90)" stroke="#fff" stroke-width="0.35">WOOD</text>
<path d="M277.00,759.50 L277.00,750.72" stroke="#fff" stroke-width="1.2"/>
<path d="M277.00,748.00 L279.11,751.40 L274.89,751.40 Z" fill="#fff"/>
<text x="0" y="3.65" font-size="10" fill="#1a1a1a" text-anchor="middle" font-weight="bold" textLength="15.5" lengthAdjust="spacingAndGlyphs" transform="translate(293.25,768.60)" stroke="#1a1a1a" stroke-width="0.35">4TH</text>
<text x="0" y="3.65" font-size="10" fill="#1a1a1a" text-anchor="middle" font-weight="bold" textLength="15.5" lengthAdjust="spacingAndGlyphs" transform="translate(293.25,787.80)" stroke="#1a1a1a" stroke-width="0.35">5TH</text>
<text x="0" y="3.83" font-size="10.5" fill="#333" text-anchor="middle" font-style="italic" textLength="49.5" lengthAdjust="spacingAndGlyphs" transform="translate(224.05,803.90)" stroke="#333" stroke-width="0.15">Liberty Tower</text>
<rect x="251.05" y="799.65" width="8.5" height="8.5" fill="#1d4b26"/>
<text x="0" y="3.46" font-size="9.5" fill="#fff" text-anchor="middle" font-weight="bold" textLength="15.5" lengthAdjust="spacingAndGlyphs" transform="translate(170.20,802.65) rotate(-90)" stroke="#fff" stroke-width="0.35">3RD</text>
<text x="0" y="3.65" font-size="10" fill="#fff" text-anchor="middle" font-weight="bold" textLength="35.5" lengthAdjust="spacingAndGlyphs" transform="translate(143.25,824.20)" stroke="#fff" stroke-width="0.35">MALDEN</text>
<text x="0" y="3.46" font-size="9.5" fill="#fff" text-anchor="middle" font-weight="bold" textLength="24" lengthAdjust="spacingAndGlyphs" transform="translate(260.80,823.10) rotate(-45)" stroke="#fff" stroke-width="0.35">WOOD</text>
<path d="M232.98,849.13 L238.02,844.37" stroke="#fff" stroke-width="1.2"/>
<path d="M240.00,842.50 L238.98,846.37 L236.08,843.30 Z M231.00,851.00 L232.02,847.13 L234.92,850.20 Z" fill="#fff"/>
<text x="0" y="3.65" font-size="10" fill="#fff" text-anchor="middle" font-weight="bold" textLength="65.09999999999991" lengthAdjust="spacingAndGlyphs" transform="translate(225.50,893.25) rotate(-90)" stroke="#fff" stroke-width="0.35">CALIFORNIA RD</text>
<text x="0" y="3.83" font-size="10.5" fill="#333" text-anchor="middle" font-style="italic" textLength="28.30000000000001" lengthAdjust="spacingAndGlyphs" transform="translate(281.55,716.70)" stroke="#333" stroke-width="0.15">Rite Aid</text>
<rect x="266.5" y="721.0" width="17" height="11" rx="1.8" fill="#9c2d93"/>
<g fill="none" stroke="#fff" stroke-width="1.15" stroke-linejoin="round"><circle cx="271.10" cy="727.70" r="2.70"/><circle cx="278.90" cy="727.70" r="2.70"/><path d="M271.10,727.70 L273.80,724.10 L277.60,724.10 L278.90,727.70 M273.80,724.10 L275.00,727.70 L277.60,724.10 M272.80,722.80 L274.80,722.80 M277.60,724.10 L276.90,722.30 L278.20,722.30"/></g>
<rect x="284.85" y="722.85" width="8.5" height="8.5" fill="#1d4b26"/>
<text x="0" y="4.37" font-size="12" fill="#6a6a6a" text-anchor="middle" textLength="58" lengthAdjust="spacingAndGlyphs" transform="translate(335.00,723.20)" stroke="#6a6a6a" stroke-width="0.2">CALIFORNIA</text>
<text x="0" y="3.46" font-size="9.5" fill="#fff" text-anchor="middle" font-weight="bold" textLength="15" lengthAdjust="spacingAndGlyphs" transform="translate(339.30,758.80) rotate(45)" stroke="#fff" stroke-width="0.35">3RD</text>
<text x="0" y="3.46" font-size="9.5" fill="#fff" text-anchor="middle" font-weight="bold" textLength="21.199999999999932" lengthAdjust="spacingAndGlyphs" transform="translate(321.60,767.30) rotate(-90)" stroke="#fff" stroke-width="0.35">EAST</text>
<path d="M330.40,762.40 L330.40,770.98" stroke="#1a1a1a" stroke-width="1.2"/>
<path d="M330.40,773.70 L328.29,770.30 L332.51,770.30 Z" fill="#1a1a1a"/>
<text x="0" y="3.65" font-size="10" fill="#fff" text-anchor="middle" font-weight="bold" textLength="15" lengthAdjust="spacingAndGlyphs" transform="translate(328.40,794.40) rotate(45)" stroke="#fff" stroke-width="0.35">6TH</text>
<text x="0" y="3.65" font-size="10" fill="#fff" text-anchor="middle" font-weight="bold" textLength="35" lengthAdjust="spacingAndGlyphs" transform="translate(348.20,796.20) rotate(-45)" stroke="#fff" stroke-width="0.35">HICKORY</text>
<path d="M333,787.5 L339,793.5 L344.5,788" fill="none" stroke="#1a1a1a" stroke-width="1.2"/>
<path d="M347,785.5 L341.5,787.1 L345.4,791 Z" fill="#1a1a1a"/>
<text x="0" y="3.83" font-size="10.5" fill="#333" text-anchor="middle" font-style="italic" textLength="36.69999999999999" lengthAdjust="spacingAndGlyphs" transform="translate(373.35,746.00)" stroke="#333" stroke-width="0.15">PennWest</text>
<text x="0" y="3.83" font-size="10.5" fill="#333" text-anchor="middle" font-style="italic" textLength="36.10000000000002" lengthAdjust="spacingAndGlyphs" transform="translate(373.05,755.90)" stroke="#333" stroke-width="0.15">University</text>
<rect x="369.09999999999997" y="763.8" width="11.2" height="11.2" fill="#1a1a1a"/>
<text x="0" y="3.76" font-size="10.304" fill="#fff" text-anchor="middle" font-weight="bold" textLength="6.4959999999999996" lengthAdjust="spacingAndGlyphs" transform="translate(374.70,769.60)" stroke="#fff" stroke-width="0.6">T</text>
<path d="M380.3,769.4 L387.5,769.4" fill="none" stroke="#333" stroke-width="0.8"/>
<rect x="387.5" y="762.9" width="61.5" height="13.6" rx="6" fill="#fff" stroke="#444" stroke-width="0.9"/>
<text x="0" y="3.46" font-size="9.5" fill="#222" text-anchor="middle" textLength="53.5" lengthAdjust="spacingAndGlyphs" transform="translate(418.25,769.70)" >CAL Commuter</text>
<rect x="369.65" y="791.45" width="8.5" height="8.5" fill="#1d4b26"/>
<text x="0" y="3.83" font-size="10.5" fill="#333" text-anchor="middle" font-style="italic" textLength="47.39999999999998" lengthAdjust="spacingAndGlyphs" transform="translate(404.70,796.30)" stroke="#333" stroke-width="0.15">Johnson Hall</text>
<rect x="352.15" y="808.95" width="8.5" height="8.5" fill="#1d4b26"/>
<text x="0" y="3.83" font-size="10.5" fill="#333" text-anchor="middle" font-style="italic" textLength="37.60000000000002" lengthAdjust="spacingAndGlyphs" transform="translate(382.80,813.20)" stroke="#333" stroke-width="0.15">Building B</text>
<rect x="174.0" y="873.5" width="17" height="11" rx="1.8" fill="#9c2d93"/>
<g fill="none" stroke="#fff" stroke-width="1.15" stroke-linejoin="round"><circle cx="178.60" cy="880.20" r="2.70"/><circle cx="186.40" cy="880.20" r="2.70"/><path d="M178.60,880.20 L181.30,876.60 L185.10,876.60 L186.40,880.20 M181.30,876.60 L182.50,880.20 L185.10,876.60 M180.30,875.30 L182.30,875.30 M185.10,876.60 L184.40,874.80 L185.70,874.80"/></g>
<text x="0" y="3.83" font-size="10.5" fill="#333" text-anchor="middle" font-style="italic" textLength="24" lengthAdjust="spacingAndGlyphs" transform="translate(169.00,890.30)" stroke="#333" stroke-width="0.15">Vulcan</text>
<text x="0" y="3.83" font-size="10.5" fill="#333" text-anchor="middle" font-style="italic" textLength="22.599999999999994" lengthAdjust="spacingAndGlyphs" transform="translate(169.70,900.20)" stroke="#333" stroke-width="0.15">Village</text>
<rect x="184.35" y="890.85" width="8.5" height="8.5" fill="#1d4b26"/>
<circle cx="246" cy="867.5" r="6.3" fill="#1f7cc4"/>
<text x="246" y="871.1" font-size="10" fill="#fff" text-anchor="middle" font-weight="bold" >P</text>
<text x="0" y="3.83" font-size="10.5" fill="#333" text-anchor="middle" font-style="italic" textLength="9.900000000000006" lengthAdjust="spacingAndGlyphs" transform="translate(259.35,862.70)" stroke="#333" stroke-width="0.15">Cal</text>
<text x="0" y="3.83" font-size="10.5" fill="#333" text-anchor="middle" font-style="italic" textLength="42.400000000000006" lengthAdjust="spacingAndGlyphs" transform="translate(275.60,873.40)" stroke="#333" stroke-width="0.15">Park &amp; Ride</text>
<rect x="257.2" y="878.3" width="17" height="11" rx="1.8" fill="#9c2d93"/>
<g fill="none" stroke="#fff" stroke-width="1.15" stroke-linejoin="round"><circle cx="261.80" cy="885.00" r="2.70"/><circle cx="269.60" cy="885.00" r="2.70"/><path d="M261.80,885.00 L264.50,881.40 L268.30,881.40 L269.60,885.00 M264.50,881.40 L265.70,885.00 L268.30,881.40 M263.50,880.10 L265.50,880.10 M268.30,881.40 L267.60,879.60 L268.90,879.60"/></g>
<text x="0" y="3.83" font-size="10.5" fill="#333" text-anchor="middle" font-style="italic" textLength="32.89999999999998" lengthAdjust="spacingAndGlyphs" transform="translate(264.25,916.30)" stroke="#333" stroke-width="0.15">Center in</text>
<text x="0" y="3.83" font-size="10.5" fill="#333" text-anchor="middle" font-style="italic" textLength="38.30000000000001" lengthAdjust="spacingAndGlyphs" transform="translate(266.95,925.80)" stroke="#333" stroke-width="0.15">the Woods</text>
<rect x="236.35" y="916.15" width="8.5" height="8.5" fill="#1d4b26"/>
<ellipse cx="237" cy="941.8" rx="10.25" ry="6.75" fill="#fff" stroke="#222" stroke-width="0.9"/>
<text x="0" y="3.83" font-size="10.5" fill="#222" text-anchor="middle" font-weight="bold" textLength="9.6" lengthAdjust="spacingAndGlyphs" transform="translate(237.00,941.80)" stroke="#222" stroke-width="0.15">88</text>
<path d="M253.42,957.42 L260.08,964.08" stroke="#fff" stroke-width="1.2"/>
<path d="M262.00,966.00 L258.11,965.09 L261.09,962.11 Z M251.50,955.50 L255.39,956.41 L252.41,959.39 Z" fill="#fff"/>
<text x="0" y="4.37" font-size="12" fill="#6a6a6a" text-anchor="middle" textLength="28.100000000000023" lengthAdjust="spacingAndGlyphs" transform="translate(183.75,987.80)" stroke="#6a6a6a" stroke-width="0.2">WEST</text>
<text x="0" y="4.37" font-size="12" fill="#6a6a6a" text-anchor="middle" textLength="68.5" lengthAdjust="spacingAndGlyphs" transform="translate(183.75,999.50)" stroke="#6a6a6a" stroke-width="0.2">BROWNSVILLE</text>
<rect x="246.55" y="994.35" width="8.5" height="8.5" fill="#1d4b26"/>
<text x="0" y="3.83" font-size="10.5" fill="#333" text-anchor="middle" font-style="italic" textLength="31.0" lengthAdjust="spacingAndGlyphs" transform="translate(273.60,998.60)" stroke="#333" stroke-width="0.15">Walmart</text>
<text x="0" y="4.37" font-size="12" fill="#6a6a6a" text-anchor="middle" textLength="61.60000000000002" lengthAdjust="spacingAndGlyphs" transform="translate(310.50,943.90)" stroke="#6a6a6a" stroke-width="0.2">BLAINSBURG</text>
<circle cx="90.5" cy="97.5" r="10.6" fill="#fff"/>
<circle cx="90.5" cy="97.5" r="9.4" fill="#dd5320"/>
<text x="0" y="5.29" font-size="14.5" fill="#fff" text-anchor="middle" font-weight="bold" textLength="8" lengthAdjust="spacingAndGlyphs" transform="translate(90.50,98.00)" stroke="#fff" stroke-width="0.6">1</text>
<circle cx="150.9" cy="76.3" r="10.6" fill="#fff"/>
<circle cx="150.9" cy="76.3" r="9.4" fill="#dd5320"/>
<text x="0" y="5.29" font-size="14.5" fill="#fff" text-anchor="middle" font-weight="bold" textLength="8" lengthAdjust="spacingAndGlyphs" transform="translate(150.90,76.80)" stroke="#fff" stroke-width="0.6">2</text>
<circle cx="194.9" cy="106.6" r="10.6" fill="#fff"/>
<circle cx="194.9" cy="106.6" r="9.4" fill="#dd5320"/>
<text x="0" y="5.29" font-size="14.5" fill="#fff" text-anchor="middle" font-weight="bold" textLength="8" lengthAdjust="spacingAndGlyphs" transform="translate(194.90,107.10)" stroke="#fff" stroke-width="0.6">3</text>
<circle cx="218" cy="129.8" r="10.6" fill="#fff"/>
<circle cx="218" cy="129.8" r="9.4" fill="#dd5320"/>
<text x="0" y="4.92" font-size="13.5" fill="#fff" text-anchor="middle" font-weight="bold" textLength="14" lengthAdjust="spacingAndGlyphs" transform="translate(218.00,130.30)" stroke="#fff" stroke-width="0.5">26</text>
<circle cx="281.5" cy="141.5" r="10.6" fill="#fff"/>
<circle cx="281.5" cy="141.5" r="9.4" fill="#dd5320"/>
<text x="0" y="5.29" font-size="14.5" fill="#fff" text-anchor="middle" font-weight="bold" textLength="8" lengthAdjust="spacingAndGlyphs" transform="translate(281.50,142.00)" stroke="#fff" stroke-width="0.6">4</text>
<circle cx="509" cy="154.5" r="10.6" fill="#fff"/>
<circle cx="509" cy="154.5" r="9.4" fill="#dd5320"/>
<text x="0" y="5.29" font-size="14.5" fill="#fff" text-anchor="middle" font-weight="bold" textLength="8" lengthAdjust="spacingAndGlyphs" transform="translate(509.00,155.00)" stroke="#fff" stroke-width="0.6">5</text>
<circle cx="538" cy="200" r="10.6" fill="#fff"/>
<circle cx="538" cy="200" r="9.4" fill="#dd5320"/>
<text x="0" y="5.29" font-size="14.5" fill="#fff" text-anchor="middle" font-weight="bold" textLength="8" lengthAdjust="spacingAndGlyphs" transform="translate(538.00,200.50)" stroke="#fff" stroke-width="0.6">6</text>
<circle cx="505.7" cy="200.2" r="10.6" fill="#fff"/>
<circle cx="505.7" cy="200.2" r="9.4" fill="#dd5320"/>
<text x="0" y="4.92" font-size="13.5" fill="#fff" text-anchor="middle" font-weight="bold" textLength="14" lengthAdjust="spacingAndGlyphs" transform="translate(505.70,200.70)" stroke="#fff" stroke-width="0.5">25</text>
<circle cx="494.4" cy="251.4" r="10.6" fill="#fff"/>
<circle cx="494.4" cy="251.4" r="9.4" fill="#dd5320"/>
<text x="0" y="5.29" font-size="14.5" fill="#fff" text-anchor="middle" font-weight="bold" textLength="8" lengthAdjust="spacingAndGlyphs" transform="translate(494.40,251.90)" stroke="#fff" stroke-width="0.6">7</text>
<circle cx="487.9" cy="389.5" r="10.6" fill="#fff"/>
<circle cx="487.9" cy="389.5" r="9.4" fill="#dd5320"/>
<text x="0" y="5.29" font-size="14.5" fill="#fff" text-anchor="middle" font-weight="bold" textLength="8" lengthAdjust="spacingAndGlyphs" transform="translate(487.90,390.00)" stroke="#fff" stroke-width="0.6">8</text>
<circle cx="542" cy="449" r="10.6" fill="#fff"/>
<circle cx="542" cy="449" r="9.4" fill="#dd5320"/>
<text x="0" y="5.29" font-size="14.5" fill="#fff" text-anchor="middle" font-weight="bold" textLength="8" lengthAdjust="spacingAndGlyphs" transform="translate(542.00,449.50)" stroke="#fff" stroke-width="0.6">9</text>
<circle cx="638.6" cy="434.8" r="10.6" fill="#fff"/>
<circle cx="638.6" cy="434.8" r="9.4" fill="#dd5320"/>
<text x="0" y="4.92" font-size="13.5" fill="#fff" text-anchor="middle" font-weight="bold" textLength="14" lengthAdjust="spacingAndGlyphs" transform="translate(638.60,435.30)" stroke="#fff" stroke-width="0.5">10</text>
<circle cx="591.5" cy="384" r="10.6" fill="#fff"/>
<circle cx="591.5" cy="384" r="9.4" fill="#dd5320"/>
<text x="0" y="4.92" font-size="13.5" fill="#fff" text-anchor="middle" font-weight="bold" textLength="14" lengthAdjust="spacingAndGlyphs" transform="translate(591.50,384.50)" stroke="#fff" stroke-width="0.5">11</text>
<circle cx="303" cy="440.7" r="10.6" fill="#fff"/>
<circle cx="303" cy="440.7" r="9.4" fill="#dd5320"/>
<text x="0" y="4.92" font-size="13.5" fill="#fff" text-anchor="middle" font-weight="bold" textLength="14" lengthAdjust="spacingAndGlyphs" transform="translate(303.00,441.20)" stroke="#fff" stroke-width="0.5">12</text>
<circle cx="257.7" cy="440.7" r="10.6" fill="#fff"/>
<circle cx="257.7" cy="440.7" r="9.4" fill="#dd5320"/>
<text x="0" y="4.92" font-size="13.5" fill="#fff" text-anchor="middle" font-weight="bold" textLength="14" lengthAdjust="spacingAndGlyphs" transform="translate(257.70,441.20)" stroke="#fff" stroke-width="0.5">13</text>
<circle cx="262.7" cy="498.5" r="10.6" fill="#fff"/>
<circle cx="262.7" cy="498.5" r="9.4" fill="#dd5320"/>
<text x="0" y="4.92" font-size="13.5" fill="#fff" text-anchor="middle" font-weight="bold" textLength="14" lengthAdjust="spacingAndGlyphs" transform="translate(262.70,499.00)" stroke="#fff" stroke-width="0.5">14</text>
<circle cx="377.7" cy="517.7" r="10.6" fill="#fff"/>
<circle cx="377.7" cy="517.7" r="9.4" fill="#dd5320"/>
<text x="0" y="4.92" font-size="13.5" fill="#fff" text-anchor="middle" font-weight="bold" textLength="14" lengthAdjust="spacingAndGlyphs" transform="translate(377.70,518.20)" stroke="#fff" stroke-width="0.5">15</text>
<circle cx="312" cy="651.3" r="10.6" fill="#fff"/>
<circle cx="312" cy="651.3" r="9.4" fill="#dd5320"/>
<text x="0" y="4.92" font-size="13.5" fill="#fff" text-anchor="middle" font-weight="bold" textLength="14" lengthAdjust="spacingAndGlyphs" transform="translate(312.00,651.80)" stroke="#fff" stroke-width="0.5">16</text>
<circle cx="254.6" cy="787.1" r="10.6" fill="#fff"/>
<circle cx="254.6" cy="787.1" r="9.4" fill="#dd5320"/>
<text x="0" y="4.92" font-size="13.5" fill="#fff" text-anchor="middle" font-weight="bold" textLength="14" lengthAdjust="spacingAndGlyphs" transform="translate(254.60,787.60)" stroke="#fff" stroke-width="0.5">17</text>
<circle cx="357" cy="773.7" r="10.6" fill="#fff"/>
<circle cx="357" cy="773.7" r="9.4" fill="#dd5320"/>
<text x="0" y="4.92" font-size="13.5" fill="#fff" text-anchor="middle" font-weight="bold" textLength="14" lengthAdjust="spacingAndGlyphs" transform="translate(357.00,774.20)" stroke="#fff" stroke-width="0.5">18</text>
<circle cx="202.3" cy="885.5" r="10.6" fill="#fff"/>
<circle cx="202.3" cy="885.5" r="9.4" fill="#dd5320"/>
<text x="0" y="4.92" font-size="13.5" fill="#fff" text-anchor="middle" font-weight="bold" textLength="14" lengthAdjust="spacingAndGlyphs" transform="translate(202.30,886.00)" stroke="#fff" stroke-width="0.5">19</text>
<circle cx="202.3" cy="905.3" r="10.6" fill="#fff"/>
<circle cx="202.3" cy="905.3" r="9.4" fill="#dd5320"/>
<text x="0" y="4.92" font-size="13.5" fill="#fff" text-anchor="middle" font-weight="bold" textLength="14" lengthAdjust="spacingAndGlyphs" transform="translate(202.30,905.80)" stroke="#fff" stroke-width="0.5">20</text>
<circle cx="234.4" cy="999.8" r="10.6" fill="#fff"/>
<circle cx="234.4" cy="999.8" r="9.4" fill="#dd5320"/>
<text x="0" y="4.92" font-size="13.5" fill="#fff" text-anchor="middle" font-weight="bold" textLength="14" lengthAdjust="spacingAndGlyphs" transform="translate(234.40,1000.30)" stroke="#fff" stroke-width="0.5">21</text>
<circle cx="246.3" cy="885.5" r="10.6" fill="#fff"/>
<circle cx="246.3" cy="885.5" r="9.4" fill="#dd5320"/>
<text x="0" y="4.92" font-size="13.5" fill="#fff" text-anchor="middle" font-weight="bold" textLength="14" lengthAdjust="spacingAndGlyphs" transform="translate(246.30,886.00)" stroke="#fff" stroke-width="0.5">22</text>
<circle cx="182.4" cy="773.7" r="10.6" fill="#fff"/>
<circle cx="182.4" cy="773.7" r="9.4" fill="#dd5320"/>
<text x="0" y="4.92" font-size="13.5" fill="#fff" text-anchor="middle" font-weight="bold" textLength="14" lengthAdjust="spacingAndGlyphs" transform="translate(182.40,774.20)" stroke="#fff" stroke-width="0.5">23</text>
<circle cx="204.4" cy="650.7" r="10.6" fill="#fff"/>
<circle cx="204.4" cy="650.7" r="9.4" fill="#dd5320"/>
<text x="0" y="4.92" font-size="13.5" fill="#fff" text-anchor="middle" font-weight="bold" textLength="14" lengthAdjust="spacingAndGlyphs" transform="translate(204.40,651.20)" stroke="#fff" stroke-width="0.5">24</text>
<rect x="514.5" y="767.5" width="129" height="226.5" fill="#fff" stroke="#555" stroke-width="0.9"/>
<rect x="514" y="767" width="130" height="17" fill="#276a2c"/>
<text x="579" y="780" font-size="11" fill="#fff" text-anchor="middle" font-weight="bold" textLength="40" lengthAdjust="spacingAndGlyphs" >LEGEND</text>
<rect x="525" y="793" width="27" height="10" fill="#083c76"/>
<text x="0" y="3.65" font-size="10" fill="#2a2a2a" text-anchor="middle" textLength="59.89999999999998" lengthAdjust="spacingAndGlyphs" transform="translate(587.95,798.00)" >Regular Service</text>
<text x="0" y="3.65" font-size="10" fill="#2a2a2a" text-anchor="middle" textLength="37.60000000000002" lengthAdjust="spacingAndGlyphs" transform="translate(576.80,816.30)" >Timepoint</text>
<text x="0" y="3.65" font-size="10" fill="#2a2a2a" text-anchor="middle" textLength="64.60000000000002" lengthAdjust="spacingAndGlyphs" transform="translate(590.30,834.60)" >Points of Interest</text>
<text x="0" y="3.65" font-size="10" fill="#2a2a2a" text-anchor="middle" textLength="78.20000000000005" lengthAdjust="spacingAndGlyphs" transform="translate(597.10,852.20)" >MMVTA Sales Outlet</text>
<text x="0" y="3.65" font-size="10" fill="#2a2a2a" text-anchor="middle" textLength="44.200000000000045" lengthAdjust="spacingAndGlyphs" transform="translate(580.10,870.20)" >Park &amp; Ride</text>
<text x="0" y="3.65" font-size="10" fill="#2a2a2a" text-anchor="middle" textLength="37.60000000000002" lengthAdjust="spacingAndGlyphs" transform="translate(576.80,888.50)" >Bike Rack</text>
<text x="0" y="3.65" font-size="10" fill="#2a2a2a" text-anchor="middle" textLength="52.799999999999955" lengthAdjust="spacingAndGlyphs" transform="translate(584.40,906.60)" >Transfer Point</text>
<text x="0" y="3.65" font-size="10" fill="#2a2a2a" text-anchor="middle" textLength="78.20000000000005" lengthAdjust="spacingAndGlyphs" transform="translate(597.10,924.90)" >Connecting Route(s)</text>
<text x="0" y="3.65" font-size="10" fill="#2a2a2a" text-anchor="middle" textLength="36.39999999999998" lengthAdjust="spacingAndGlyphs" transform="translate(576.20,942.90)" >Interstate</text>
<text x="0" y="3.65" font-size="10" fill="#2a2a2a" text-anchor="middle" textLength="55.200000000000045" lengthAdjust="spacingAndGlyphs" transform="translate(585.60,961.70)" >State Highway</text>
<circle cx="538.6" cy="816.3" r="7" fill="#dd5320"/>
<text x="0" y="4.01" font-size="11" fill="#fff" text-anchor="middle" font-weight="bold" textLength="5.5" lengthAdjust="spacingAndGlyphs" transform="translate(538.60,816.60)" stroke="#fff" stroke-width="0.35">1</text>
<rect x="534.3" y="830.8" width="9" height="9" fill="#1d4b26"/>
<path d="M538.6,846.6 L544.6,852.6 L538.6,858.6 L532.6,852.6 Z" fill="#3cae49"/>
<circle cx="538.6" cy="870.2" r="6" fill="#1f7cc4"/>
<text x="538.6" y="873.8000000000001" font-size="10" fill="#fff" text-anchor="middle" font-weight="bold" >P</text>
<rect x="530.6" y="883.7" width="16.2" height="10" rx="1.8" fill="#9c2d93"/>
<g fill="none" stroke="#fff" stroke-width="1.05" stroke-linejoin="round"><circle cx="535.15" cy="889.79" r="2.45"/><circle cx="542.25" cy="889.79" r="2.45"/><path d="M535.15,889.79 L537.61,886.52 L541.06,886.52 L542.25,889.79 M537.61,886.52 L538.70,889.79 L541.06,886.52 M536.70,885.34 L538.52,885.34 M541.06,886.52 L540.43,884.88 L541.61,884.88"/></g>
<rect x="533.6" y="900.6" width="10.8" height="10.8" fill="#1a1a1a"/>
<text x="0" y="3.62" font-size="9.936000000000002" fill="#fff" text-anchor="middle" font-weight="bold" textLength="6.264" lengthAdjust="spacingAndGlyphs" transform="translate(539.00,906.20)" stroke="#fff" stroke-width="0.6">T</text>
<path d="M539,911 L539,919" stroke="#333" stroke-width="0.8"/>
<rect x="530.3" y="918.8" width="17" height="10.5" rx="3.2" fill="#fff" stroke="#333" stroke-width="0.8"/>
<text x="0" y="3.10" font-size="8.5" fill="#222" text-anchor="middle" font-weight="bold" textLength="12.5" lengthAdjust="spacingAndGlyphs" transform="translate(538.75,924.20)" stroke="#222" stroke-width="0.1">1, 2</text>
<path d="M530.70,936.88 Q534.70,934.62 538.70,935.88 Q542.70,934.62 546.70,936.88 L546.70,941.81 Q546.70,945.75 538.70,947.75 Q530.70,945.75 530.70,941.81 Z" fill="#fff" stroke="#222" stroke-width="0.9"/>
<path d="M530.70,936.88 Q534.70,934.62 538.70,935.88 Q542.70,934.62 546.70,936.88 L546.70,938.50 L530.70,938.50 Z" fill="#1a1a1a"/>
<text x="0" y="2.37" font-size="6.5" fill="#222" text-anchor="middle" font-weight="bold" textLength="8.0" lengthAdjust="spacingAndGlyphs" transform="translate(538.70,942.25)" stroke="#222" stroke-width="0.15">70</text>
<ellipse cx="538.9" cy="961.7" rx="8.25" ry="5.0" fill="#fff" stroke="#222" stroke-width="0.9"/>
<text x="0" y="2.73" font-size="7.5" fill="#222" text-anchor="middle" textLength="10.5" lengthAdjust="spacingAndGlyphs" transform="translate(538.90,961.70)" >201</text>
<text x="0" y="3.10" font-size="8.5" fill="#333" text-anchor="middle" textLength="51.60000000000002" lengthAdjust="spacingAndGlyphs" transform="translate(579.20,977.60)" >© 2024, MMVTA</text>
<text x="0" y="3.10" font-size="8.5" fill="#333" text-anchor="middle" textLength="109.29999999999995" lengthAdjust="spacingAndGlyphs" transform="translate(579.15,987.00)" >Design by Smartmaps, Knoxville, TN</text>
<text x="0" y="3.21" font-size="8.8" fill="#2a2a2a" text-anchor="middle" font-weight="bold" textLength="26.5" lengthAdjust="spacingAndGlyphs" transform="translate(578.75,689.70)" stroke="#2a2a2a" stroke-width="0.35">NORTH</text>
<circle cx="578.9" cy="709" r="12.4" fill="#fff" stroke="#808080" stroke-width="1.4"/>
<path d="M578.8,697.3 L569.5,715 L588.2,715 Z" fill="#808080"/>
<text x="0" y="3.83" font-size="10.5" fill="#fff" text-anchor="middle" font-weight="bold" textLength="6.5" lengthAdjust="spacingAndGlyphs" transform="translate(578.90,709.80)" stroke="#fff" stroke-width="0.35">N</text>
<text x="0" y="3.28" font-size="9" fill="#2a2a2a" text-anchor="middle" font-weight="bold" textLength="29.200000000000045" lengthAdjust="spacingAndGlyphs" transform="translate(578.90,728.80)" stroke="#2a2a2a" stroke-width="0.35">Map not</text>
<text x="0" y="3.28" font-size="9" fill="#2a2a2a" text-anchor="middle" font-weight="bold" textLength="28.5" lengthAdjust="spacingAndGlyphs" transform="translate(579.05,737.80)" stroke="#2a2a2a" stroke-width="0.35">to scale</text>
<rect x="10.6" y="11.6" width="652.2" height="1001.4" fill="none" stroke="#2a2a2a" stroke-width="1.2"/>
</svg></body></html>
